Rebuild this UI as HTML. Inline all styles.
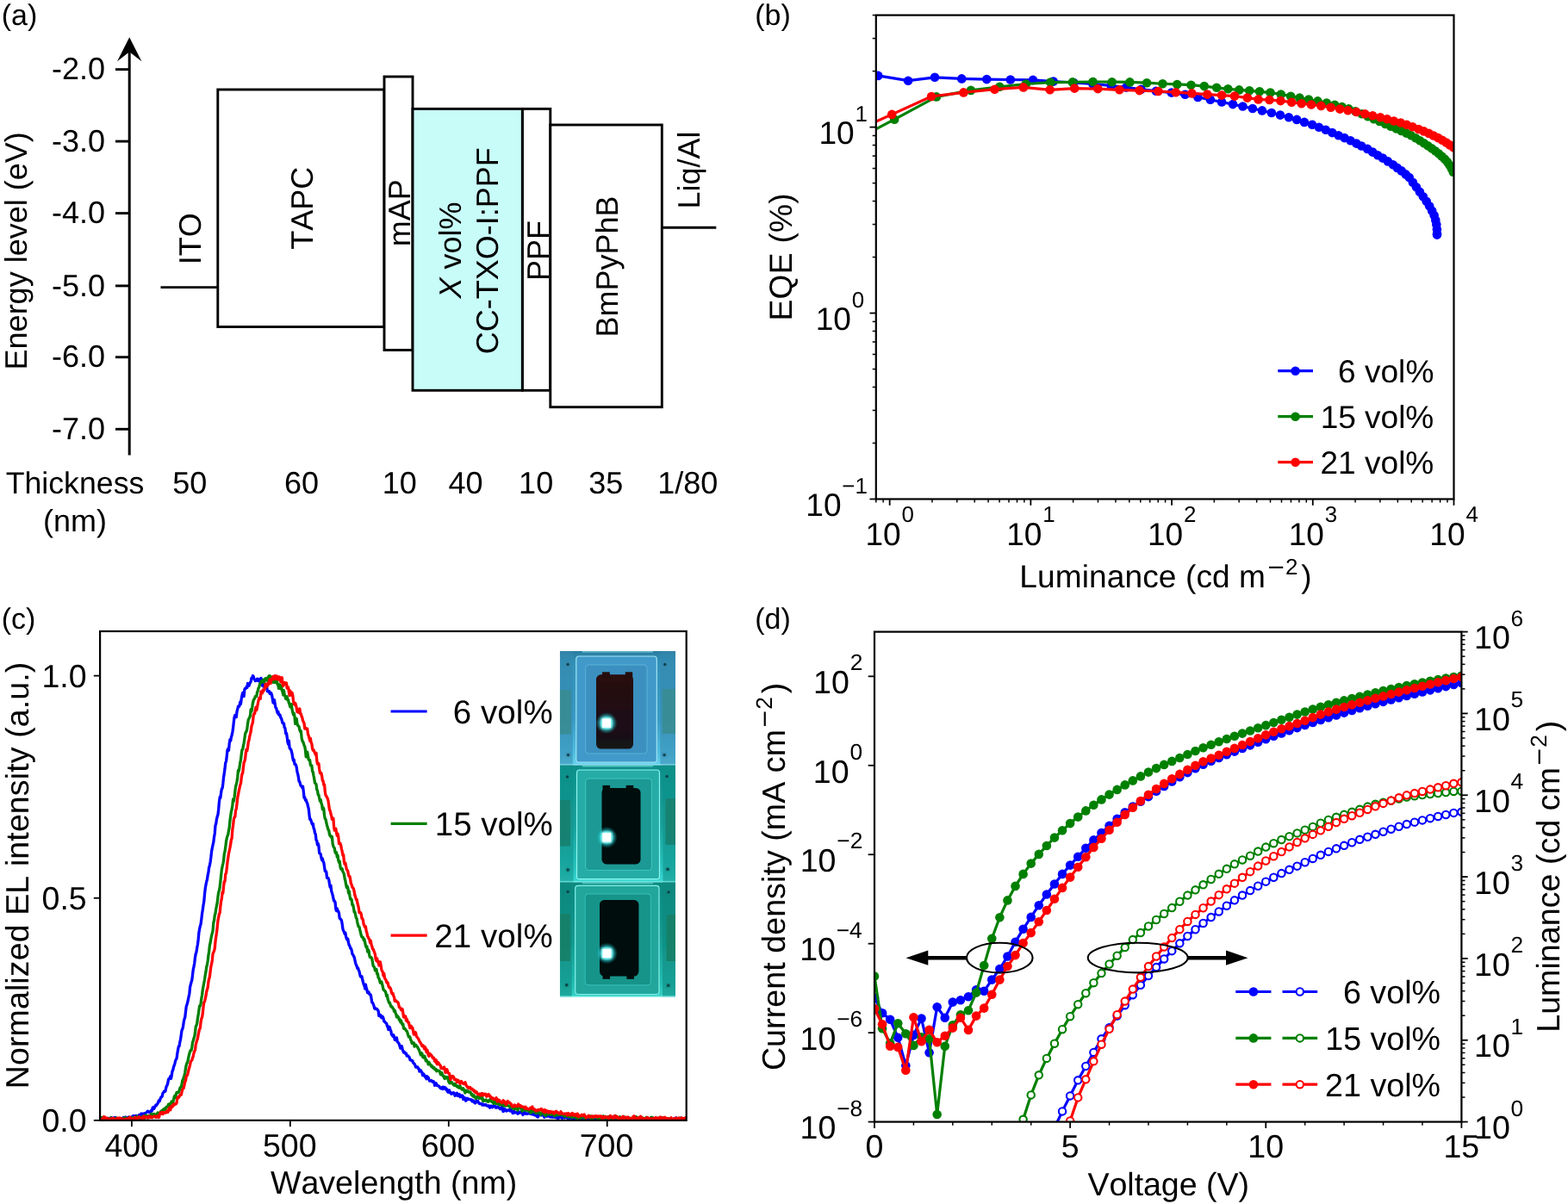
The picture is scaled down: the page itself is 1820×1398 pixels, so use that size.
<!DOCTYPE html>
<html lang="en"><head><meta charset="utf-8"><title>Figure</title>
<style>
html,body{margin:0;padding:0;background:#fff;}
body{width:1820px;height:1398px;overflow:hidden;}
svg{display:block;font-family:'Liberation Sans', sans-serif;fill:#000;font-kerning:none;text-rendering:geometricPrecision;}
</style></head><body>
<svg width="1820" height="1398" viewBox="0 0 1820 1398">
<rect width="1820" height="1398" fill="#fff" stroke="none"/>
<g id="pa">
<text x="1.69" y="29.2" font-size="34">(a)</text>
<line x1="150.2" y1="56" x2="150.2" y2="528.6" stroke="#000" stroke-width="3"/>
<path d="M150.2 43.2 L164.4 71.2 L150.2 60.2 L136 71.2 Z" fill="#000"/>
<line x1="134" y1="80.6" x2="150.2" y2="80.6" stroke="#000" stroke-width="2.9"/>
<text x="60.07" y="92.2" font-size="36">-2.0</text>
<line x1="134" y1="164.1" x2="150.2" y2="164.1" stroke="#000" stroke-width="2.9"/>
<text x="60.07" y="175.7" font-size="36">-3.0</text>
<line x1="134" y1="247.6" x2="150.2" y2="247.6" stroke="#000" stroke-width="2.9"/>
<text x="60.07" y="259.2" font-size="36">-4.0</text>
<line x1="134" y1="331.9" x2="150.2" y2="331.9" stroke="#000" stroke-width="2.9"/>
<text x="60.07" y="343.5" font-size="36">-5.0</text>
<line x1="134" y1="414.7" x2="150.2" y2="414.7" stroke="#000" stroke-width="2.9"/>
<text x="60.07" y="426.3" font-size="36">-6.0</text>
<line x1="134" y1="498.3" x2="150.2" y2="498.3" stroke="#000" stroke-width="2.9"/>
<text x="60.07" y="509.9" font-size="36">-7.0</text>
<text font-size="36" transform="translate(31.3 429.42) rotate(-90)">Energy level (eV)</text>
<line x1="186.5" y1="333.6" x2="252.8" y2="333.6" stroke="#000" stroke-width="2.9"/>
<rect x="252.8" y="104" width="193.2" height="275.5" fill="none" stroke="#000" stroke-width="2.9"/>
<rect x="446" y="89" width="33" height="317.5" fill="#fff" stroke="#000" stroke-width="2.9"/>
<rect x="606.3" y="126.4" width="32.5" height="326.9" fill="none" stroke="#000" stroke-width="2.9"/>
<rect x="479" y="126.4" width="127.3" height="326.9" fill="#c8fcf9" stroke="#000" stroke-width="2.9"/>
<rect x="638.8" y="145" width="129.5" height="327.7" fill="#fff" stroke="#000" stroke-width="2.9"/>
<line x1="768.3" y1="264.2" x2="831.3" y2="264.2" stroke="#000" stroke-width="2.9"/>
<text font-size="36" transform="translate(232.5 307.3) rotate(-90)">ITO</text>
<text font-size="36" transform="translate(363 289.72) rotate(-90)">TAPC</text>
<text font-size="36" transform="translate(476 286.25) rotate(-90)">mAP</text>
<text font-size="36" transform="translate(578.2 411.19) rotate(-90)">CC-TXO-I:PPF</text>
<text font-size="36" transform="translate(637 326.06) rotate(-90)">PPF</text>
<text font-size="36" transform="translate(717 391.56) rotate(-90)">BmPyPhB</text>
<text font-size="36" transform="translate(812.2 242.6) rotate(-90)">Liq/Al</text>
<text transform="translate(535.2 346.6) rotate(-90)" font-size="36" style="white-space:pre"><tspan font-style="italic">X</tspan> vol%</text>
<text x="6.7" y="573.4" font-size="35.7">Thickness</text>
<text x="50.01" y="617" font-size="36">(nm)</text>
<text x="200.26" y="573.4" font-size="36">50</text>
<text x="330.07" y="573.4" font-size="36">60</text>
<text x="443.81" y="573.4" font-size="36">10</text>
<text x="520.57" y="573.4" font-size="36">40</text>
<text x="602.11" y="573.4" font-size="36">10</text>
<text x="683.25" y="573.4" font-size="36">35</text>
<text x="763.3" y="573.4" font-size="36">1/80</text>
</g>
<g id="pb">
<text x="876.19" y="29.1" font-size="34">(b)</text>
<line x1="1016.8" y1="579.5" x2="1016.8" y2="583.6" stroke="#000" stroke-width="1.5"/>
<line x1="1025.17" y1="579.5" x2="1025.17" y2="583.6" stroke="#000" stroke-width="1.5"/>
<line x1="1032.67" y1="579.5" x2="1032.67" y2="586.8" stroke="#000" stroke-width="1.8"/>
<line x1="1081.95" y1="579.5" x2="1081.95" y2="583.6" stroke="#000" stroke-width="1.5"/>
<line x1="1110.77" y1="579.5" x2="1110.77" y2="583.6" stroke="#000" stroke-width="1.5"/>
<line x1="1131.23" y1="579.5" x2="1131.23" y2="583.6" stroke="#000" stroke-width="1.5"/>
<line x1="1147.09" y1="579.5" x2="1147.09" y2="583.6" stroke="#000" stroke-width="1.5"/>
<line x1="1160.06" y1="579.5" x2="1160.06" y2="583.6" stroke="#000" stroke-width="1.5"/>
<line x1="1171.01" y1="579.5" x2="1171.01" y2="583.6" stroke="#000" stroke-width="1.5"/>
<line x1="1180.51" y1="579.5" x2="1180.51" y2="583.6" stroke="#000" stroke-width="1.5"/>
<line x1="1188.88" y1="579.5" x2="1188.88" y2="583.6" stroke="#000" stroke-width="1.5"/>
<line x1="1196.37" y1="579.5" x2="1196.37" y2="586.8" stroke="#000" stroke-width="1.8"/>
<line x1="1245.66" y1="579.5" x2="1245.66" y2="583.6" stroke="#000" stroke-width="1.5"/>
<line x1="1274.48" y1="579.5" x2="1274.48" y2="583.6" stroke="#000" stroke-width="1.5"/>
<line x1="1294.94" y1="579.5" x2="1294.94" y2="583.6" stroke="#000" stroke-width="1.5"/>
<line x1="1310.8" y1="579.5" x2="1310.8" y2="583.6" stroke="#000" stroke-width="1.5"/>
<line x1="1323.76" y1="579.5" x2="1323.76" y2="583.6" stroke="#000" stroke-width="1.5"/>
<line x1="1334.72" y1="579.5" x2="1334.72" y2="583.6" stroke="#000" stroke-width="1.5"/>
<line x1="1344.22" y1="579.5" x2="1344.22" y2="583.6" stroke="#000" stroke-width="1.5"/>
<line x1="1352.59" y1="579.5" x2="1352.59" y2="583.6" stroke="#000" stroke-width="1.5"/>
<line x1="1360.08" y1="579.5" x2="1360.08" y2="586.8" stroke="#000" stroke-width="1.8"/>
<line x1="1409.36" y1="579.5" x2="1409.36" y2="583.6" stroke="#000" stroke-width="1.5"/>
<line x1="1438.19" y1="579.5" x2="1438.19" y2="583.6" stroke="#000" stroke-width="1.5"/>
<line x1="1458.64" y1="579.5" x2="1458.64" y2="583.6" stroke="#000" stroke-width="1.5"/>
<line x1="1474.51" y1="579.5" x2="1474.51" y2="583.6" stroke="#000" stroke-width="1.5"/>
<line x1="1487.47" y1="579.5" x2="1487.47" y2="583.6" stroke="#000" stroke-width="1.5"/>
<line x1="1498.43" y1="579.5" x2="1498.43" y2="583.6" stroke="#000" stroke-width="1.5"/>
<line x1="1507.93" y1="579.5" x2="1507.93" y2="583.6" stroke="#000" stroke-width="1.5"/>
<line x1="1516.3" y1="579.5" x2="1516.3" y2="583.6" stroke="#000" stroke-width="1.5"/>
<line x1="1523.79" y1="579.5" x2="1523.79" y2="586.8" stroke="#000" stroke-width="1.8"/>
<line x1="1573.07" y1="579.5" x2="1573.07" y2="583.6" stroke="#000" stroke-width="1.5"/>
<line x1="1601.9" y1="579.5" x2="1601.9" y2="583.6" stroke="#000" stroke-width="1.5"/>
<line x1="1622.35" y1="579.5" x2="1622.35" y2="583.6" stroke="#000" stroke-width="1.5"/>
<line x1="1638.22" y1="579.5" x2="1638.22" y2="583.6" stroke="#000" stroke-width="1.5"/>
<line x1="1651.18" y1="579.5" x2="1651.18" y2="583.6" stroke="#000" stroke-width="1.5"/>
<line x1="1662.14" y1="579.5" x2="1662.14" y2="583.6" stroke="#000" stroke-width="1.5"/>
<line x1="1671.63" y1="579.5" x2="1671.63" y2="583.6" stroke="#000" stroke-width="1.5"/>
<line x1="1680.01" y1="579.5" x2="1680.01" y2="583.6" stroke="#000" stroke-width="1.5"/>
<line x1="1687.5" y1="579.5" x2="1687.5" y2="586.8" stroke="#000" stroke-width="1.8"/>
<line x1="1009.5" y1="579.5" x2="1016.8" y2="579.5" stroke="#000" stroke-width="1.8"/>
<line x1="1012.7" y1="514.49" x2="1016.8" y2="514.49" stroke="#000" stroke-width="1.5"/>
<line x1="1012.7" y1="476.47" x2="1016.8" y2="476.47" stroke="#000" stroke-width="1.5"/>
<line x1="1012.7" y1="449.49" x2="1016.8" y2="449.49" stroke="#000" stroke-width="1.5"/>
<line x1="1012.7" y1="428.56" x2="1016.8" y2="428.56" stroke="#000" stroke-width="1.5"/>
<line x1="1012.7" y1="411.46" x2="1016.8" y2="411.46" stroke="#000" stroke-width="1.5"/>
<line x1="1012.7" y1="397.01" x2="1016.8" y2="397.01" stroke="#000" stroke-width="1.5"/>
<line x1="1012.7" y1="384.48" x2="1016.8" y2="384.48" stroke="#000" stroke-width="1.5"/>
<line x1="1012.7" y1="373.44" x2="1016.8" y2="373.44" stroke="#000" stroke-width="1.5"/>
<line x1="1009.5" y1="363.56" x2="1016.8" y2="363.56" stroke="#000" stroke-width="1.8"/>
<line x1="1012.7" y1="298.55" x2="1016.8" y2="298.55" stroke="#000" stroke-width="1.5"/>
<line x1="1012.7" y1="260.52" x2="1016.8" y2="260.52" stroke="#000" stroke-width="1.5"/>
<line x1="1012.7" y1="233.54" x2="1016.8" y2="233.54" stroke="#000" stroke-width="1.5"/>
<line x1="1012.7" y1="212.62" x2="1016.8" y2="212.62" stroke="#000" stroke-width="1.5"/>
<line x1="1012.7" y1="195.52" x2="1016.8" y2="195.52" stroke="#000" stroke-width="1.5"/>
<line x1="1012.7" y1="181.06" x2="1016.8" y2="181.06" stroke="#000" stroke-width="1.5"/>
<line x1="1012.7" y1="168.54" x2="1016.8" y2="168.54" stroke="#000" stroke-width="1.5"/>
<line x1="1012.7" y1="157.49" x2="1016.8" y2="157.49" stroke="#000" stroke-width="1.5"/>
<line x1="1009.5" y1="147.61" x2="1016.8" y2="147.61" stroke="#000" stroke-width="1.8"/>
<line x1="1012.7" y1="82.61" x2="1016.8" y2="82.61" stroke="#000" stroke-width="1.5"/>
<line x1="1012.7" y1="44.58" x2="1016.8" y2="44.58" stroke="#000" stroke-width="1.5"/>
<line x1="1012.7" y1="17.6" x2="1016.8" y2="17.6" stroke="#000" stroke-width="1.5"/>
<text x="1004.51" y="632.5" font-size="37.1" text-anchor="start">10</text>
<text x="1046.58" y="606.3" font-size="25.97" text-anchor="start">0</text>
<text x="1168.22" y="632.5" font-size="37.1" text-anchor="start">10</text>
<text x="1210.29" y="606.3" font-size="25.97" text-anchor="start">1</text>
<text x="1331.93" y="632.5" font-size="37.1" text-anchor="start">10</text>
<text x="1373.99" y="606.3" font-size="25.97" text-anchor="start">2</text>
<text x="1495.64" y="632.5" font-size="37.1" text-anchor="start">10</text>
<text x="1537.7" y="606.3" font-size="25.97" text-anchor="start">3</text>
<text x="1659.35" y="632.5" font-size="37.1" text-anchor="start">10</text>
<text x="1701.41" y="606.3" font-size="25.97" text-anchor="start">4</text>
<text x="935.28" y="599" font-size="37.1" text-anchor="start">10</text>
<text x="977.35" y="572.8" font-size="25.97" text-anchor="start">&#8722;1</text>
<text x="946.7" y="383.06" font-size="37.1" text-anchor="start">10</text>
<text x="988.77" y="356.86" font-size="25.97" text-anchor="start">0</text>
<text x="950.45" y="167.11" font-size="37.1" text-anchor="start">10</text>
<text x="992.51" y="140.91" font-size="25.97" text-anchor="start">1</text>
<clipPath id="cb"><rect x="1016.8" y="17.6" width="670.7" height="561.9"/></clipPath>
<g clip-path="url(#cb)">
<polyline fill="none" stroke="#0000ff" stroke-width="3.2" stroke-linejoin="round" points="1019.3,87.9 1054.1,93.7 1085,89.8 1116.3,91.4 1145.3,92.1 1172.9,92.5 1199,92.9 1222.7,94.6 1246.3,96 1268.5,97.5 1289.7,99.5 1307.1,101.4 1324.5,103.8 1341.9,105.7 1359.8,107.6 1375.6,109.8 1390.4,112.9 1404.9,115.8 1418.1,118.5 1431,121.1 1442.5,123.5 1453.9,126 1465,128.4 1475.9,131 1486,133.6 1495.9,136.3 1505.2,138.9 1514,141.9 1523,144.8 1530.9,147.8 1538.8,150.8 1546.3,154.1 1553.6,157.3 1560.5,160.1 1567.5,163.2 1574.4,166.6 1580.3,169.5 1587.2,172.9 1593.2,176.6 1599.1,180.2 1605,183.6 1611,187.4 1616.9,191.3 1621.8,194.9 1626.8,198.4 1631.7,202.4 1635.7,206.1 1639.91,211.7 1643.95,217.27 1647.89,222.82 1651.84,228.33 1655.71,233.82 1659.11,239.28 1662.16,244.72 1664.63,250.12 1666.28,255.5 1667.35,260.86 1667.89,266.18 1668,271.48 1668,272.6"/>
<circle cx="1019.3" cy="87.9" r="5.3" fill="#0000ff"/>
<circle cx="1054.1" cy="93.7" r="5.3" fill="#0000ff"/>
<circle cx="1085" cy="89.8" r="5.3" fill="#0000ff"/>
<circle cx="1116.3" cy="91.4" r="5.3" fill="#0000ff"/>
<circle cx="1145.3" cy="92.1" r="5.3" fill="#0000ff"/>
<circle cx="1172.9" cy="92.5" r="5.3" fill="#0000ff"/>
<circle cx="1199" cy="92.9" r="5.3" fill="#0000ff"/>
<circle cx="1222.7" cy="94.6" r="5.3" fill="#0000ff"/>
<circle cx="1246.3" cy="96" r="5.3" fill="#0000ff"/>
<circle cx="1268.5" cy="97.5" r="5.3" fill="#0000ff"/>
<circle cx="1289.7" cy="99.5" r="5.3" fill="#0000ff"/>
<circle cx="1307.1" cy="101.4" r="5.3" fill="#0000ff"/>
<circle cx="1324.5" cy="103.8" r="5.3" fill="#0000ff"/>
<circle cx="1341.9" cy="105.7" r="5.3" fill="#0000ff"/>
<circle cx="1359.8" cy="107.6" r="5.3" fill="#0000ff"/>
<circle cx="1375.6" cy="109.8" r="5.3" fill="#0000ff"/>
<circle cx="1390.4" cy="112.9" r="5.3" fill="#0000ff"/>
<circle cx="1404.9" cy="115.8" r="5.3" fill="#0000ff"/>
<circle cx="1418.1" cy="118.5" r="5.3" fill="#0000ff"/>
<circle cx="1431" cy="121.1" r="5.3" fill="#0000ff"/>
<circle cx="1442.5" cy="123.5" r="5.3" fill="#0000ff"/>
<circle cx="1453.9" cy="126" r="5.3" fill="#0000ff"/>
<circle cx="1465" cy="128.4" r="5.3" fill="#0000ff"/>
<circle cx="1475.9" cy="131" r="5.3" fill="#0000ff"/>
<circle cx="1486" cy="133.6" r="5.3" fill="#0000ff"/>
<circle cx="1495.9" cy="136.3" r="5.3" fill="#0000ff"/>
<circle cx="1505.2" cy="138.9" r="5.3" fill="#0000ff"/>
<circle cx="1514" cy="141.9" r="5.3" fill="#0000ff"/>
<circle cx="1523" cy="144.8" r="5.3" fill="#0000ff"/>
<circle cx="1530.9" cy="147.8" r="5.3" fill="#0000ff"/>
<circle cx="1538.8" cy="150.8" r="5.3" fill="#0000ff"/>
<circle cx="1546.3" cy="154.1" r="5.3" fill="#0000ff"/>
<circle cx="1553.6" cy="157.3" r="5.3" fill="#0000ff"/>
<circle cx="1560.5" cy="160.1" r="5.3" fill="#0000ff"/>
<circle cx="1567.5" cy="163.2" r="5.3" fill="#0000ff"/>
<circle cx="1574.4" cy="166.6" r="5.3" fill="#0000ff"/>
<circle cx="1580.3" cy="169.5" r="5.3" fill="#0000ff"/>
<circle cx="1587.2" cy="172.9" r="5.3" fill="#0000ff"/>
<circle cx="1593.2" cy="176.6" r="5.3" fill="#0000ff"/>
<circle cx="1599.1" cy="180.2" r="5.3" fill="#0000ff"/>
<circle cx="1605" cy="183.6" r="5.3" fill="#0000ff"/>
<circle cx="1611" cy="187.4" r="5.3" fill="#0000ff"/>
<circle cx="1616.9" cy="191.3" r="5.3" fill="#0000ff"/>
<circle cx="1621.8" cy="194.9" r="5.3" fill="#0000ff"/>
<circle cx="1626.8" cy="198.4" r="5.3" fill="#0000ff"/>
<circle cx="1631.7" cy="202.4" r="5.3" fill="#0000ff"/>
<circle cx="1635.7" cy="206.1" r="5.3" fill="#0000ff"/>
<circle cx="1639.91" cy="211.7" r="5.3" fill="#0000ff"/>
<circle cx="1643.95" cy="217.27" r="5.3" fill="#0000ff"/>
<circle cx="1647.89" cy="222.82" r="5.3" fill="#0000ff"/>
<circle cx="1651.84" cy="228.33" r="5.3" fill="#0000ff"/>
<circle cx="1655.71" cy="233.82" r="5.3" fill="#0000ff"/>
<circle cx="1659.11" cy="239.28" r="5.3" fill="#0000ff"/>
<circle cx="1662.16" cy="244.72" r="5.3" fill="#0000ff"/>
<circle cx="1664.63" cy="250.12" r="5.3" fill="#0000ff"/>
<circle cx="1666.28" cy="255.5" r="5.3" fill="#0000ff"/>
<circle cx="1667.35" cy="260.86" r="5.3" fill="#0000ff"/>
<circle cx="1667.89" cy="266.18" r="5.3" fill="#0000ff"/>
<circle cx="1668" cy="271.48" r="5.3" fill="#0000ff"/>
<circle cx="1668" cy="272.6" r="5.3" fill="#0000ff"/>
<polyline fill="none" stroke="#008000" stroke-width="3.2" stroke-linejoin="round" points="1010,153.4 1038.2,138.7 1086.9,112.4 1126.9,104.9 1160.3,100.8 1190.8,97.5 1219.2,95.6 1244.9,95.4 1268.5,95 1290.7,95.2 1311.4,95.4 1331.1,96.2 1349.5,97.24 1366.3,97.93 1382.5,98.7 1397.8,100.09 1412.2,101.82 1425.4,103.3 1438.3,104.41 1450.2,105.33 1462,106.3 1474.5,107.6 1486.8,109.5 1498.2,111.69 1508.5,113.67 1519,115.52 1529.5,117.41 1539.8,119.5 1549.2,121.73 1557.6,124 1565.5,126.4 1573.2,129.19 1580.55,132.23 1587.68,135.27 1594.64,138.17 1601.39,141.05 1607.94,143.88 1614.31,146.66 1620.51,149.37 1626.56,151.96 1632.37,154.58 1637.89,157.32 1643.12,160.21 1648.09,163.18 1652.84,166.19 1657.38,169.19 1661.74,172.19 1665.9,175.22 1669.83,178.32 1673.54,181.48 1677.01,184.71 1680.09,188.17 1682.69,191.88 1684.88,195.74 1686.76,199.69"/>
<circle cx="1038.2" cy="138.7" r="5.3" fill="#008000"/>
<circle cx="1086.9" cy="112.4" r="5.3" fill="#008000"/>
<circle cx="1126.9" cy="104.9" r="5.3" fill="#008000"/>
<circle cx="1160.3" cy="100.8" r="5.3" fill="#008000"/>
<circle cx="1190.8" cy="97.5" r="5.3" fill="#008000"/>
<circle cx="1219.2" cy="95.6" r="5.3" fill="#008000"/>
<circle cx="1244.9" cy="95.4" r="5.3" fill="#008000"/>
<circle cx="1268.5" cy="95" r="5.3" fill="#008000"/>
<circle cx="1290.7" cy="95.2" r="5.3" fill="#008000"/>
<circle cx="1311.4" cy="95.4" r="5.3" fill="#008000"/>
<circle cx="1331.1" cy="96.2" r="5.3" fill="#008000"/>
<circle cx="1349.5" cy="97.24" r="5.3" fill="#008000"/>
<circle cx="1366.3" cy="97.93" r="5.3" fill="#008000"/>
<circle cx="1382.5" cy="98.7" r="5.3" fill="#008000"/>
<circle cx="1397.8" cy="100.09" r="5.3" fill="#008000"/>
<circle cx="1412.2" cy="101.82" r="5.3" fill="#008000"/>
<circle cx="1425.4" cy="103.3" r="5.3" fill="#008000"/>
<circle cx="1438.3" cy="104.41" r="5.3" fill="#008000"/>
<circle cx="1450.2" cy="105.33" r="5.3" fill="#008000"/>
<circle cx="1462" cy="106.3" r="5.3" fill="#008000"/>
<circle cx="1474.5" cy="107.6" r="5.3" fill="#008000"/>
<circle cx="1486.8" cy="109.5" r="5.3" fill="#008000"/>
<circle cx="1498.2" cy="111.69" r="5.3" fill="#008000"/>
<circle cx="1508.5" cy="113.67" r="5.3" fill="#008000"/>
<circle cx="1519" cy="115.52" r="5.3" fill="#008000"/>
<circle cx="1529.5" cy="117.41" r="5.3" fill="#008000"/>
<circle cx="1539.8" cy="119.5" r="5.3" fill="#008000"/>
<circle cx="1549.2" cy="121.73" r="5.3" fill="#008000"/>
<circle cx="1557.6" cy="124" r="5.3" fill="#008000"/>
<circle cx="1565.5" cy="126.4" r="5.3" fill="#008000"/>
<circle cx="1573.2" cy="129.19" r="5.3" fill="#008000"/>
<circle cx="1580.55" cy="132.23" r="5.3" fill="#008000"/>
<circle cx="1587.68" cy="135.27" r="5.3" fill="#008000"/>
<circle cx="1594.64" cy="138.17" r="5.3" fill="#008000"/>
<circle cx="1601.39" cy="141.05" r="5.3" fill="#008000"/>
<circle cx="1607.94" cy="143.88" r="5.3" fill="#008000"/>
<circle cx="1614.31" cy="146.66" r="5.3" fill="#008000"/>
<circle cx="1620.51" cy="149.37" r="5.3" fill="#008000"/>
<circle cx="1626.56" cy="151.96" r="5.3" fill="#008000"/>
<circle cx="1632.37" cy="154.58" r="5.3" fill="#008000"/>
<circle cx="1637.89" cy="157.32" r="5.3" fill="#008000"/>
<circle cx="1643.12" cy="160.21" r="5.3" fill="#008000"/>
<circle cx="1648.09" cy="163.18" r="5.3" fill="#008000"/>
<circle cx="1652.84" cy="166.19" r="5.3" fill="#008000"/>
<circle cx="1657.38" cy="169.19" r="5.3" fill="#008000"/>
<circle cx="1661.74" cy="172.19" r="5.3" fill="#008000"/>
<circle cx="1665.9" cy="175.22" r="5.3" fill="#008000"/>
<circle cx="1669.83" cy="178.32" r="5.3" fill="#008000"/>
<circle cx="1673.54" cy="181.48" r="5.3" fill="#008000"/>
<circle cx="1677.01" cy="184.71" r="5.3" fill="#008000"/>
<circle cx="1680.09" cy="188.17" r="5.3" fill="#008000"/>
<circle cx="1682.69" cy="191.88" r="5.3" fill="#008000"/>
<circle cx="1684.88" cy="195.74" r="5.3" fill="#008000"/>
<circle cx="1686.76" cy="199.69" r="5.3" fill="#008000"/>
<polyline fill="none" stroke="#ff0000" stroke-width="3.2" stroke-linejoin="round" points="1010,144.2 1035.2,132.9 1081.1,112 1118.4,107.4 1154.5,103.7 1187.9,101.4 1218.7,104.3 1247.2,102.6 1274.3,103.1 1299.4,104.3 1322.6,105.1 1344.4,106 1364.7,107.2 1383.5,108.4 1401.3,109.6 1418.1,110.6 1433,111.6 1447.8,113.6 1460.6,115.4 1473.5,116 1486.4,117.1 1499.2,118.7 1510.7,120.3 1522,121.5 1533.4,122.9 1544.7,124.7 1555.2,126.6 1564.5,128.2 1574.4,130 1584.3,132.2 1593.2,134.2 1602.1,136.3 1610,138.3 1617.9,140.5 1625.8,142.5 1632.7,144.8 1639.6,147.2 1646.6,150 1652.72,152.41 1658.5,154.92 1663.98,157.48 1669.17,160.09 1674.07,162.77 1678.66,165.53 1682.97,168.38 1687.09,171.17 1691.02,173.91 1694.77,176.6"/>
<circle cx="1035.2" cy="132.9" r="5.3" fill="#ff0000"/>
<circle cx="1081.1" cy="112" r="5.3" fill="#ff0000"/>
<circle cx="1118.4" cy="107.4" r="5.3" fill="#ff0000"/>
<circle cx="1154.5" cy="103.7" r="5.3" fill="#ff0000"/>
<circle cx="1187.9" cy="101.4" r="5.3" fill="#ff0000"/>
<circle cx="1218.7" cy="104.3" r="5.3" fill="#ff0000"/>
<circle cx="1247.2" cy="102.6" r="5.3" fill="#ff0000"/>
<circle cx="1274.3" cy="103.1" r="5.3" fill="#ff0000"/>
<circle cx="1299.4" cy="104.3" r="5.3" fill="#ff0000"/>
<circle cx="1322.6" cy="105.1" r="5.3" fill="#ff0000"/>
<circle cx="1344.4" cy="106" r="5.3" fill="#ff0000"/>
<circle cx="1364.7" cy="107.2" r="5.3" fill="#ff0000"/>
<circle cx="1383.5" cy="108.4" r="5.3" fill="#ff0000"/>
<circle cx="1401.3" cy="109.6" r="5.3" fill="#ff0000"/>
<circle cx="1418.1" cy="110.6" r="5.3" fill="#ff0000"/>
<circle cx="1433" cy="111.6" r="5.3" fill="#ff0000"/>
<circle cx="1447.8" cy="113.6" r="5.3" fill="#ff0000"/>
<circle cx="1460.6" cy="115.4" r="5.3" fill="#ff0000"/>
<circle cx="1473.5" cy="116" r="5.3" fill="#ff0000"/>
<circle cx="1486.4" cy="117.1" r="5.3" fill="#ff0000"/>
<circle cx="1499.2" cy="118.7" r="5.3" fill="#ff0000"/>
<circle cx="1510.7" cy="120.3" r="5.3" fill="#ff0000"/>
<circle cx="1522" cy="121.5" r="5.3" fill="#ff0000"/>
<circle cx="1533.4" cy="122.9" r="5.3" fill="#ff0000"/>
<circle cx="1544.7" cy="124.7" r="5.3" fill="#ff0000"/>
<circle cx="1555.2" cy="126.6" r="5.3" fill="#ff0000"/>
<circle cx="1564.5" cy="128.2" r="5.3" fill="#ff0000"/>
<circle cx="1574.4" cy="130" r="5.3" fill="#ff0000"/>
<circle cx="1584.3" cy="132.2" r="5.3" fill="#ff0000"/>
<circle cx="1593.2" cy="134.2" r="5.3" fill="#ff0000"/>
<circle cx="1602.1" cy="136.3" r="5.3" fill="#ff0000"/>
<circle cx="1610" cy="138.3" r="5.3" fill="#ff0000"/>
<circle cx="1617.9" cy="140.5" r="5.3" fill="#ff0000"/>
<circle cx="1625.8" cy="142.5" r="5.3" fill="#ff0000"/>
<circle cx="1632.7" cy="144.8" r="5.3" fill="#ff0000"/>
<circle cx="1639.6" cy="147.2" r="5.3" fill="#ff0000"/>
<circle cx="1646.6" cy="150" r="5.3" fill="#ff0000"/>
<circle cx="1652.72" cy="152.41" r="5.3" fill="#ff0000"/>
<circle cx="1658.5" cy="154.92" r="5.3" fill="#ff0000"/>
<circle cx="1663.98" cy="157.48" r="5.3" fill="#ff0000"/>
<circle cx="1669.17" cy="160.09" r="5.3" fill="#ff0000"/>
<circle cx="1674.07" cy="162.77" r="5.3" fill="#ff0000"/>
<circle cx="1678.66" cy="165.53" r="5.3" fill="#ff0000"/>
<circle cx="1682.97" cy="168.38" r="5.3" fill="#ff0000"/>
<circle cx="1687.09" cy="171.17" r="5.3" fill="#ff0000"/>
<circle cx="1691.02" cy="173.91" r="5.3" fill="#ff0000"/>
<circle cx="1694.77" cy="176.6" r="5.3" fill="#ff0000"/>
</g>
<rect x="1016.8" y="17.6" width="670.7" height="561.9" fill="none" stroke="#000" stroke-width="2.2"/>
<line x1="1483.3" y1="430.7" x2="1524" y2="430.7" stroke="#0000ff" stroke-width="3.2"/>
<circle cx="1503.6" cy="430.7" r="5.3" fill="#0000ff"/>
<text x="1552.92" y="444" font-size="37.1" letter-spacing="0.03">6 vol%</text>
<line x1="1483.3" y1="483.7" x2="1524" y2="483.7" stroke="#008000" stroke-width="3.2"/>
<circle cx="1503.6" cy="483.7" r="5.3" fill="#008000"/>
<text x="1532.67" y="497.1" font-size="37.1" letter-spacing="-0.04">15 vol%</text>
<line x1="1483.3" y1="536.7" x2="1524" y2="536.7" stroke="#ff0000" stroke-width="3.2"/>
<circle cx="1503.6" cy="536.7" r="5.3" fill="#ff0000"/>
<text x="1532.43" y="550.4" font-size="37.1" letter-spacing="0">21 vol%</text>
<text font-size="37.1" transform="translate(918.6 372.54) rotate(-90)" letter-spacing="0.33">EQE (%)</text>
<text x="1183.36" y="681.6" font-size="37.1"><tspan letter-spacing="0.09">Luminance (cd m</tspan><tspan dx="1.1" dy="-14.2" font-size="25.97" font-family="'DejaVu Sans', sans-serif">&#8722;</tspan><tspan font-size="25.97">2</tspan><tspan dx="3.8" dy="14.2">)</tspan></text>
</g>
<g id="pc">
<text x="1.79" y="730.2" font-size="34">(c)</text>
<line x1="152.89" y1="1300.9" x2="152.89" y2="1308.2" stroke="#000" stroke-width="1.8"/>
<text x="121.41" y="1343.1" font-size="37.5">400</text>
<line x1="336.84" y1="1300.9" x2="336.84" y2="1308.2" stroke="#000" stroke-width="1.8"/>
<text x="305.03" y="1343.1" font-size="37.5">500</text>
<line x1="520.78" y1="1300.9" x2="520.78" y2="1308.2" stroke="#000" stroke-width="1.8"/>
<text x="488.78" y="1343.1" font-size="37.5">600</text>
<line x1="704.73" y1="1300.9" x2="704.73" y2="1308.2" stroke="#000" stroke-width="1.8"/>
<text x="672.71" y="1343.1" font-size="37.5">700</text>
<line x1="108.8" y1="1300.9" x2="116.1" y2="1300.9" stroke="#000" stroke-width="1.8"/>
<text x="48.43" y="1314.1" font-size="37.5">0.0</text>
<line x1="108.8" y1="1042.76" x2="116.1" y2="1042.76" stroke="#000" stroke-width="1.8"/>
<text x="48.54" y="1055.96" font-size="37.5">0.5</text>
<line x1="108.8" y1="784.63" x2="116.1" y2="784.63" stroke="#000" stroke-width="1.8"/>
<text x="48.43" y="797.83" font-size="37.5">1.0</text>
<clipPath id="cc"><rect x="116.1" y="733" width="680.6" height="567.9"/></clipPath>
<g clip-path="url(#cc)">
<polyline fill="none" stroke="#0000ff" stroke-width="3.3" stroke-linejoin="round" points="116.1,1298.73 116.84,1298 117.57,1299.76 118.31,1300.69 119.04,1301.54 119.78,1299.45 120.51,1299.77 121.25,1299.64 121.99,1298.88 122.72,1299.31 123.46,1300.46 124.19,1300.15 124.93,1299.38 125.67,1298.43 126.4,1299.18 127.14,1300.65 127.87,1299.8 128.61,1297.93 129.34,1297.78 130.08,1299.32 130.82,1299.2 131.55,1298.18 132.29,1298.95 133.02,1297.76 133.76,1297.36 134.49,1298.3 135.23,1298.49 135.97,1298.39 136.7,1299.34 137.44,1299.05 138.17,1299.22 138.91,1298.96 139.65,1299.05 140.38,1298.82 141.12,1298.77 141.85,1298.34 142.59,1298.23 143.32,1297.58 144.06,1297.66 144.8,1299.08 145.53,1297.15 146.27,1298.76 147,1299.15 147.74,1298.06 148.47,1297.38 149.21,1297.23 149.95,1298.49 150.68,1297.31 151.42,1297.96 152.15,1299.22 152.89,1298 153.62,1296.27 154.36,1295.9 155.1,1295.62 155.83,1296.01 156.57,1296.09 157.3,1295.76 158.04,1295.41 158.78,1296.81 159.51,1295.82 160.25,1295.93 160.98,1296.41 161.72,1294.44 162.45,1295.87 163.19,1294.16 163.93,1293.09 164.66,1295.47 165.4,1294.15 166.13,1293.02 166.87,1294.93 167.6,1293.69 168.34,1292.54 169.08,1292.23 169.81,1291.86 170.55,1291.34 171.28,1290.19 172.02,1290.28 172.76,1290.79 173.49,1291.58 174.23,1291.62 174.96,1291.18 175.7,1289.13 176.43,1289.82 177.17,1286.07 177.91,1285.6 178.64,1287.54 179.38,1286.26 180.11,1284.62 180.85,1283.14 181.58,1283.63 182.32,1282.09 183.06,1281.39 183.79,1279.38 184.53,1277.69 185.26,1278.49 186,1276.11 186.74,1274.38 187.47,1273.43 188.21,1273.29 188.94,1269.59 189.68,1268.69 190.41,1267.09 191.15,1267.3 191.89,1267.21 192.62,1263.77 193.36,1260.84 194.09,1260.11 194.83,1257.57 195.56,1253.41 196.3,1252.22 197.04,1252 197.77,1249.7 198.51,1252.5 199.24,1248.98 199.98,1243.83 200.72,1242.55 201.45,1239.2 202.19,1237.16 202.92,1234.94 203.66,1231.52 204.39,1230.28 205.13,1228.5 205.87,1223.06 206.6,1218.87 207.34,1214.95 208.07,1214.84 208.81,1210.02 209.54,1206.89 210.28,1201.8 211.02,1196.38 211.75,1194.98 212.49,1192.05 213.22,1186.96 213.96,1183.28 214.7,1181.49 215.43,1175.33 216.17,1169.1 216.9,1166.71 217.64,1164.36 218.37,1160.82 219.11,1157.24 219.85,1153.73 220.58,1146.2 221.32,1143.18 222.05,1140.34 222.79,1138.04 223.52,1132.03 224.26,1125.89 225,1122.41 225.73,1118.44 226.47,1111.9 227.2,1107.65 227.94,1105.5 228.67,1100.73 229.41,1096.7 230.15,1090.95 230.88,1082.99 231.62,1078.75 232.35,1075.32 233.09,1073.01 233.83,1067.21 234.56,1060.9 235.3,1056.24 236.03,1051.06 236.77,1046.64 237.5,1038.49 238.24,1031.81 238.98,1027.45 239.71,1023.82 240.45,1021.32 241.18,1016.16 241.92,1012.96 242.65,1007.02 243.39,1005 244.13,1000.78 244.86,995.4 245.6,988.57 246.33,984.76 247.07,981.28 247.81,977.98 248.54,971.97 249.28,967.72 250.01,958.44 250.75,956.38 251.48,951.08 252.22,948.07 252.96,946.04 253.69,939.76 254.43,931.12 255.16,925.74 255.9,926.17 256.63,920.36 257.37,916.08 258.11,915.12 258.84,909.7 259.58,902.41 260.31,897.64 261.05,892.31 261.79,885.48 262.52,884.24 263.26,877.77 263.99,870.88 264.73,869.52 265.46,871.39 266.2,863.54 266.94,858.81 267.67,860.16 268.41,856 269.14,853.43 269.88,850.03 270.61,845.11 271.35,838.15 272.09,832.51 272.82,830.42 273.56,832.72 274.29,832.53 275.03,826.02 275.77,823.5 276.5,820.07 277.24,820.43 277.97,819.86 278.71,815.29 279.44,817.49 280.18,811.63 280.92,807.59 281.65,804.61 282.39,803.97 283.12,808.51 283.86,800.66 284.59,799.38 285.33,799.31 286.07,797.51 286.8,798.47 287.54,793.52 288.27,794.15 289.01,796.22 289.74,794.1 290.48,792.59 291.22,791.16 291.95,787.42 292.69,787.59 293.42,784.63 294.16,785.59 294.9,788.03 295.63,789.16 296.37,790.64 297.1,790.35 297.84,789.35 298.57,788.19 299.31,790.36 300.05,788.59 300.78,789.63 301.52,791.63 302.25,790.26 302.99,787.42 303.72,790.33 304.46,796.08 305.2,795.89 305.93,797.11 306.67,796.06 307.4,793.73 308.14,795.98 308.88,795.14 309.61,797.06 310.35,802.73 311.08,802.99 311.82,802.62 312.55,802.61 313.29,805.54 314.03,804.62 314.76,804.72 315.5,806.72 316.23,810.84 316.97,815.73 317.7,816.4 318.44,812.73 319.18,817.15 319.91,821.5 320.65,822.25 321.38,825.05 322.12,827.72 322.86,826.31 323.59,829.96 324.33,829.79 325.06,830.22 325.8,833.37 326.53,834.06 327.27,836.69 328.01,839.55 328.74,839.92 329.48,840.01 330.21,844.89 330.95,845.57 331.68,851.75 332.42,851.03 333.16,855.38 333.89,861.44 334.63,864.09 335.36,860.09 336.1,868.31 336.84,869.51 337.57,869.9 338.31,872.49 339.04,875.14 339.78,879.98 340.51,883.03 341.25,882.19 341.99,887.37 342.72,887.15 343.46,888.32 344.19,890.73 344.93,896.13 345.66,898.69 346.4,902.41 347.14,907.24 347.87,907.69 348.61,910.83 349.34,912.48 350.08,912.72 350.82,914.54 351.55,913.24 352.29,918.87 353.02,926.41 353.76,925.75 354.49,929.08 355.23,928.69 355.97,931.25 356.7,932.69 357.44,936.05 358.17,938.64 358.91,945.29 359.64,951.28 360.38,951.16 361.12,953.05 361.85,955.66 362.59,957.35 363.32,956.56 364.06,961.73 364.79,963.06 365.53,967.38 366.27,968.64 367,975.4 367.74,976.21 368.47,981.13 369.21,979.42 369.95,982.49 370.68,990.61 371.42,990.78 372.15,991.53 372.89,995.8 373.62,998.45 374.36,997.03 375.1,1000.55 375.83,1001.45 376.57,1006.9 377.3,1011.57 378.04,1011.29 378.77,1012.51 379.51,1019.42 380.25,1019.37 380.98,1019.61 381.72,1021.53 382.45,1026.24 383.19,1030.2 383.93,1028 384.66,1034.51 385.4,1036.72 386.13,1039.43 386.87,1042.9 387.6,1046.2 388.34,1046.21 389.08,1047.73 389.81,1055.72 390.55,1057.7 391.28,1054.89 392.02,1057.24 392.75,1058.07 393.49,1060.41 394.23,1066.27 394.96,1066.65 395.7,1067.74 396.43,1068.8 397.17,1072.72 397.91,1078.51 398.64,1080.75 399.38,1081.96 400.11,1084.38 400.85,1082.93 401.58,1087.59 402.32,1090.02 403.06,1091.27 403.79,1090.19 404.53,1094.89 405.26,1097.44 406,1098.32 406.73,1101.1 407.47,1101.53 408.21,1103.54 408.94,1107.68 409.68,1108.46 410.41,1110.07 411.15,1111.38 411.89,1114.64 412.62,1117.97 413.36,1120.33 414.09,1121.61 414.83,1124.45 415.56,1123.93 416.3,1126.34 417.04,1128.05 417.77,1131.69 418.51,1133.93 419.24,1134.41 419.98,1133.76 420.71,1137.53 421.45,1140.24 422.19,1143.15 422.92,1144.32 423.66,1148.01 424.39,1143.1 425.13,1147.01 425.86,1149.14 426.6,1152.73 427.34,1152.63 428.07,1152.09 428.81,1154.48 429.54,1154.49 430.28,1155.14 431.02,1159.28 431.75,1164.11 432.49,1164.31 433.22,1165.88 433.96,1167.76 434.69,1170.96 435.43,1171.49 436.17,1170.83 436.9,1171.28 437.64,1171.51 438.37,1172.98 439.11,1173.75 439.84,1179.55 440.58,1179.09 441.32,1178.21 442.05,1180.61 442.79,1181.71 443.52,1180.07 444.26,1180.59 445,1182.45 445.73,1185.8 446.47,1186.18 447.2,1187.04 447.94,1187.79 448.67,1188.44 449.41,1191.2 450.15,1192.67 450.88,1195.68 451.62,1192.06 452.35,1193 453.09,1195.9 453.82,1197.23 454.56,1201.44 455.3,1201.5 456.03,1203.28 456.77,1201.75 457.5,1203.8 458.24,1207.31 458.98,1207.6 459.71,1206.61 460.45,1205.08 461.18,1209.54 461.92,1210.24 462.65,1211.05 463.39,1212.54 464.13,1214.99 464.86,1217.15 465.6,1215.98 466.33,1214.71 467.07,1217.97 467.8,1220.4 468.54,1221.98 469.28,1221.21 470.01,1222.48 470.75,1223.51 471.48,1223.29 472.22,1225.99 472.96,1225.83 473.69,1225.82 474.43,1227.09 475.16,1227.62 475.9,1230.43 476.63,1231.11 477.37,1231 478.11,1231.68 478.84,1231.73 479.58,1233.83 480.31,1234.97 481.05,1235.09 481.78,1236.62 482.52,1239.16 483.26,1238.83 483.99,1239.05 484.73,1238.82 485.46,1240.9 486.2,1241 486.94,1244.04 487.67,1242.71 488.41,1242.79 489.14,1244.44 489.88,1245.12 490.61,1248.69 491.35,1246.82 492.09,1247.52 492.82,1249.3 493.56,1250.54 494.29,1250.13 495.03,1252.73 495.76,1249.75 496.5,1250.83 497.24,1251.26 497.97,1253.81 498.71,1255.12 499.44,1254.96 500.18,1254.93 500.91,1254.69 501.65,1255.95 502.39,1255.59 503.12,1255.56 503.86,1256.7 504.59,1260.43 505.33,1258.52 506.07,1257.74 506.8,1258.85 507.54,1260.65 508.27,1260.69 509.01,1260.85 509.74,1261.39 510.48,1262.69 511.22,1263.46 511.95,1264.08 512.69,1262.79 513.42,1262.34 514.16,1264.5 514.89,1262.25 515.63,1262.4 516.37,1263.72 517.1,1262.89 517.84,1265.23 518.57,1264.4 519.31,1267.28 520.05,1268.21 520.78,1266.07 521.52,1265.89 522.25,1268.51 522.99,1268.36 523.72,1270.29 524.46,1269.85 525.2,1268.99 525.93,1269.66 526.67,1268.81 527.4,1269.5 528.14,1272.28 528.87,1271.69 529.61,1270.1 530.35,1269.14 531.08,1272.41 531.82,1272.44 532.55,1270.93 533.29,1270.65 534.03,1273.74 534.76,1273.55 535.5,1273.12 536.23,1271.95 536.97,1272.28 537.7,1276.47 538.44,1276.36 539.18,1274.49 539.91,1275.64 540.65,1278.16 541.38,1275.97 542.12,1275.25 542.85,1276.67 543.59,1276.01 544.33,1276.41 545.06,1276.29 545.8,1276.89 546.53,1276.91 547.27,1276.97 548.01,1278.85 548.74,1277.95 549.48,1277.93 550.21,1279.89 550.95,1280.14 551.68,1280.89 552.42,1280.01 553.16,1277.88 553.89,1279.12 554.63,1278.42 555.36,1280.15 556.1,1281.23 556.83,1281.6 557.57,1281.4 558.31,1281.52 559.04,1281.54 559.78,1283.13 560.51,1282.13 561.25,1282.34 561.98,1283.24 562.72,1283.1 563.46,1282.48 564.19,1282.95 564.93,1283.77 565.66,1284.09 566.4,1284.33 567.14,1283.67 567.87,1285.16 568.61,1286.24 569.34,1284.74 570.08,1284.12 570.81,1285.13 571.55,1285.77 572.29,1284.36 573.02,1284.65 573.76,1284.42 574.49,1284.46 575.23,1286.08 575.96,1285.68 576.7,1286.17 577.44,1285.02 578.17,1285.3 578.91,1286.02 579.64,1286.59 580.38,1287.69 581.12,1287.2 581.85,1287.74 582.59,1285.03 583.32,1287.32 584.06,1290.6 584.79,1290.2 585.53,1287.39 586.27,1289.08 587,1288.65 587.74,1290.03 588.47,1289.16 589.21,1289.5 589.94,1288.84 590.68,1289.14 591.42,1288.46 592.15,1289.94 592.89,1288.66 593.62,1289.84 594.36,1290.34 595.1,1292.58 595.83,1291.72 596.57,1290.12 597.3,1292.07 598.04,1291.35 598.77,1291.7 599.51,1291.94 600.25,1291.68 600.98,1293.25 601.72,1292.32 602.45,1291.15 603.19,1292.29 603.92,1291 604.66,1290.86 605.4,1290.62 606.13,1292.66 606.87,1294.45 607.6,1293.38 608.34,1292.62 609.08,1291.57 609.81,1292.84 610.55,1293.37 611.28,1292.94 612.02,1293.43 612.75,1292.86 613.49,1292.95 614.23,1292.48 614.96,1293.03 615.7,1292.92 616.43,1293.66 617.17,1293.42 617.9,1293.98 618.64,1293.5 619.38,1294.1 620.11,1294.61 620.85,1294.89 621.58,1294.53 622.32,1295 623.06,1296.2 623.79,1294.45 624.53,1296.94 625.26,1295.07 626,1294.84 626.73,1294.12 627.47,1294.74 628.21,1294.99 628.94,1294.59 629.68,1293.32 630.41,1292.88 631.15,1295.65 631.88,1297.26 632.62,1295.51 633.36,1293.69 634.09,1292.71 634.83,1296.29 635.56,1295.63 636.3,1294.94 637.03,1295.85 637.77,1296.52 638.51,1295.41 639.24,1297.1 639.98,1295.63 640.71,1295.29 641.45,1297.35 642.19,1295.79 642.92,1294.82 643.66,1296.92 644.39,1297.52 645.13,1296.65 645.86,1296.4 646.6,1298.25 647.34,1297.82 648.07,1298.52 648.81,1297.42 649.54,1295.87 650.28,1297.29 651.01,1297.36 651.75,1297.11 652.49,1298.36 653.22,1297.98 653.96,1296.11 654.69,1297.06 655.43,1298.04 656.17,1296.48 656.9,1296.24 657.64,1297.13 658.37,1297.81 659.11,1298.95 659.84,1298.68 660.58,1299.11 661.32,1297.05 662.05,1297.65 662.79,1297.17 663.52,1298.4 664.26,1297.93 664.99,1299.64 665.73,1298.31 666.47,1297.59 667.2,1297.94 667.94,1298.91 668.67,1299.21 669.41,1296.94 670.15,1297.36 670.88,1296.98 671.62,1297.57 672.35,1298.6 673.09,1297.15 673.82,1296.52 674.56,1299.07 675.3,1298.38 676.03,1298.39 676.77,1297.02 677.5,1298.83 678.24,1299.73 678.97,1299.67 679.71,1300.69 680.45,1301.62 681.18,1301.28 681.92,1299.76 682.65,1299.65 683.39,1298.94 684.13,1299.41 684.86,1297.97 685.6,1297.75 686.33,1300.29 687.07,1299.54 687.8,1297.19 688.54,1297.23 689.28,1300.28 690.01,1300.48 690.75,1299.35 691.48,1299.07 692.22,1298.78 692.95,1300.01 693.69,1299.37 694.43,1299.89 695.16,1300.98 695.9,1300.26 696.63,1298.54 697.37,1298.96 698.1,1299.26 698.84,1297.52 699.58,1298.24 700.31,1298.6 701.05,1298.59 701.78,1298.69 702.52,1298.35 703.26,1298.53 703.99,1299.99 704.73,1301.11 705.46,1299.78 706.2,1300.49 706.93,1300.16 707.67,1299.54 708.41,1300.61 709.14,1298.97 709.88,1300.43 710.61,1300.81 711.35,1299.38 712.08,1297.01 712.82,1298.39 713.56,1299.39 714.29,1298.02 715.03,1298.39 715.76,1300.42 716.5,1299.51 717.24,1298.7 717.97,1299.42 718.71,1299.37 719.44,1298.11 720.18,1298.96 720.91,1298.16 721.65,1297.52 722.39,1298.35 723.12,1297.4 723.86,1299.53 724.59,1299.83 725.33,1299.33 726.06,1298.8 726.8,1299.09 727.54,1300 728.27,1301.42 729.01,1300.8 729.74,1299.77 730.48,1298.7 731.22,1299.48 731.95,1301.89 732.69,1300.13 733.42,1300.27 734.16,1299.87 734.89,1299.99 735.63,1301.05 736.37,1300.61 737.1,1298.77 737.84,1299.4 738.57,1300.27 739.31,1300.23 740.04,1300.96 740.78,1300.83 741.52,1299.59 742.25,1300.84 742.99,1301.04 743.72,1299.81 744.46,1298.37 745.2,1299.44 745.93,1299.66 746.67,1299.51 747.4,1298.91 748.14,1299.75 748.87,1301.06 749.61,1300.32 750.35,1300.36 751.08,1299.74 751.82,1300.66 752.55,1301.15 753.29,1298.85 754.02,1300.3 754.76,1300.93 755.5,1298.91 756.23,1299.63 756.97,1299.5 757.7,1299.83 758.44,1299.96 759.18,1300.92 759.91,1301.52 760.65,1300.37 761.38,1299.76 762.12,1299.66 762.85,1299.42 763.59,1300.8 764.33,1301.53 765.06,1299.61 765.8,1301.08 766.53,1301.16 767.27,1300.69 768,1300.94 768.74,1299.97 769.48,1300.02 770.21,1298.43 770.95,1300.35 771.68,1300.64 772.42,1301.26 773.15,1302.05 773.89,1300.94 774.63,1300.7 775.36,1301.02 776.1,1301.78 776.83,1299.46 777.57,1299.04 778.31,1300.33 779.04,1299.84 779.78,1299.88 780.51,1300.76 781.25,1299.97 781.98,1299.08 782.72,1300.22 783.46,1301.58 784.19,1300.6 784.93,1297.88 785.66,1300.12 786.4,1301.18 787.13,1299.55 787.87,1299.31 788.61,1300.48 789.34,1300.82 790.08,1298.2 790.81,1299.48 791.55,1299.82 792.29,1299.41 793.02,1300.2 793.76,1299.86 794.49,1299.86 795.23,1301.17 795.96,1298.92 796.7,1299.29"/>
<polyline fill="none" stroke="#008000" stroke-width="3.3" stroke-linejoin="round" points="116.1,1299.2 116.84,1299.1 117.57,1298.76 118.31,1297.43 119.04,1299.52 119.78,1298.69 120.51,1298.36 121.25,1300.31 121.99,1299.76 122.72,1299.3 123.46,1300.03 124.19,1300.39 124.93,1299.62 125.67,1299.4 126.4,1299.4 127.14,1300.94 127.87,1299.47 128.61,1297.68 129.34,1298.28 130.08,1300.3 130.82,1299.08 131.55,1300.38 132.29,1300.27 133.02,1300.12 133.76,1299.23 134.49,1298.14 135.23,1298.6 135.97,1299.28 136.7,1299.49 137.44,1299.21 138.17,1298.97 138.91,1298.72 139.65,1299.67 140.38,1299.17 141.12,1299.21 141.85,1299.05 142.59,1298.8 143.32,1298.42 144.06,1297.97 144.8,1298.55 145.53,1297.82 146.27,1299.43 147,1299.35 147.74,1298.76 148.47,1298.56 149.21,1298.24 149.95,1297.42 150.68,1297.76 151.42,1298.58 152.15,1299.17 152.89,1298.41 153.62,1297.53 154.36,1299.06 155.1,1300.09 155.83,1299.48 156.57,1298.71 157.3,1297.65 158.04,1297.79 158.78,1296.3 159.51,1297.78 160.25,1298.36 160.98,1298.23 161.72,1297.38 162.45,1298.54 163.19,1298.43 163.93,1297.33 164.66,1297.26 165.4,1296.6 166.13,1298.61 166.87,1299.55 167.6,1297.24 168.34,1298.16 169.08,1294.92 169.81,1295.38 170.55,1297.49 171.28,1298.09 172.02,1297.28 172.76,1295.52 173.49,1296.47 174.23,1296.53 174.96,1295.14 175.7,1293.53 176.43,1294.74 177.17,1294.16 177.91,1293.8 178.64,1293.31 179.38,1293.7 180.11,1294.84 180.85,1294.31 181.58,1294.48 182.32,1293.36 183.06,1291.94 183.79,1292.94 184.53,1292.41 185.26,1292.55 186,1291.49 186.74,1290.24 187.47,1291 188.21,1290.17 188.94,1288.75 189.68,1288.13 190.41,1287.6 191.15,1288.5 191.89,1288.86 192.62,1285.99 193.36,1285.3 194.09,1284.93 194.83,1284.65 195.56,1282.12 196.3,1284.27 197.04,1281.7 197.77,1281.71 198.51,1280.72 199.24,1278.84 199.98,1279.88 200.72,1280.47 201.45,1277.38 202.19,1273.67 202.92,1272.28 203.66,1274.44 204.39,1270.87 205.13,1268.32 205.87,1268.34 206.6,1268.5 207.34,1268.35 208.07,1266.68 208.81,1263.65 209.54,1262.38 210.28,1262.43 211.02,1258.8 211.75,1254.68 212.49,1253.48 213.22,1251.38 213.96,1248.73 214.7,1245.79 215.43,1240.67 216.17,1236.9 216.9,1234.4 217.64,1233.42 218.37,1230.24 219.11,1226.39 219.85,1223.36 220.58,1220.99 221.32,1219.45 222.05,1219.51 222.79,1216.34 223.52,1210.41 224.26,1208.51 225,1205.65 225.73,1203.67 226.47,1199.14 227.2,1192.28 227.94,1190.87 228.67,1188.42 229.41,1182.52 230.15,1178.6 230.88,1173.23 231.62,1168.07 232.35,1168.18 233.09,1165.06 233.83,1159.28 234.56,1155.25 235.3,1149.27 236.03,1145.29 236.77,1141.24 237.5,1137.55 238.24,1132.12 238.98,1128.38 239.71,1122.75 240.45,1120.09 241.18,1115.73 241.92,1109.31 242.65,1105.16 243.39,1097.64 244.13,1094.65 244.86,1090.24 245.6,1086.36 246.33,1083.75 247.07,1080.55 247.81,1071.28 248.54,1069 249.28,1062.61 250.01,1060.59 250.75,1055.32 251.48,1051.62 252.22,1047.93 252.96,1041.34 253.69,1036.26 254.43,1033.88 255.16,1030.15 255.9,1023.4 256.63,1016.26 257.37,1009.88 258.11,1005.93 258.84,1003.06 259.58,999.08 260.31,991.41 261.05,988.62 261.79,983.61 262.52,977.14 263.26,973.37 263.99,970.57 264.73,968.96 265.46,964.46 266.2,960.65 266.94,952.67 267.67,947.85 268.41,942.28 269.14,939.83 269.88,934.5 270.61,927.87 271.35,930.12 272.09,925.79 272.82,919.01 273.56,913.15 274.29,910.73 275.03,907.26 275.77,902.16 276.5,894.48 277.24,895.11 277.97,891.14 278.71,885.75 279.44,882.71 280.18,876.19 280.92,870.64 281.65,870.25 282.39,865.95 283.12,862.79 283.86,857.86 284.59,852.38 285.33,850.28 286.07,849.23 286.8,846.36 287.54,840.38 288.27,835.73 289.01,834.35 289.74,832.87 290.48,830.68 291.22,823.73 291.95,825.92 292.69,821.75 293.42,816.7 294.16,813.33 294.9,811.82 295.63,811.13 296.37,808.56 297.1,808.63 297.84,808.22 298.57,803.7 299.31,802.2 300.05,798.92 300.78,797.85 301.52,794.43 302.25,793.68 302.99,791.84 303.72,790.62 304.46,791.65 305.2,791.25 305.93,789.25 306.67,792.76 307.4,789.24 308.14,787.72 308.88,788.78 309.61,787.5 310.35,790.25 311.08,788.32 311.82,785.54 312.55,784.63 313.29,784.8 314.03,787.42 314.76,786.52 315.5,786.24 316.23,788.65 316.97,792.3 317.7,789.18 318.44,787.76 319.18,792.51 319.91,789.94 320.65,791.59 321.38,790.83 322.12,794.8 322.86,795.76 323.59,799.35 324.33,794.76 325.06,795.66 325.8,799.79 326.53,796.63 327.27,801.27 328.01,803.5 328.74,807.04 329.48,801.61 330.21,806.95 330.95,808.34 331.68,811.23 332.42,810.2 333.16,808.76 333.89,812.85 334.63,812.6 335.36,816.31 336.1,817.84 336.84,820.72 337.57,818.56 338.31,817.57 339.04,823.86 339.78,827.04 340.51,829.74 341.25,828.14 341.99,832.18 342.72,840.44 343.46,838.44 344.19,834.38 344.93,840.19 345.66,842.35 346.4,842.86 347.14,843.97 347.87,847.56 348.61,849.73 349.34,848.84 350.08,856.21 350.82,860.02 351.55,861.21 352.29,862.8 353.02,865.43 353.76,866.83 354.49,871.28 355.23,878.84 355.97,874.21 356.7,873.13 357.44,877.28 358.17,882.08 358.91,882.67 359.64,882.6 360.38,888.21 361.12,889.22 361.85,888.9 362.59,895.32 363.32,896.59 364.06,900.85 364.79,904.38 365.53,909.15 366.27,909.86 367,910.44 367.74,916.79 368.47,917.85 369.21,922.63 369.95,923.13 370.68,926.71 371.42,930.16 372.15,928.4 372.89,932.55 373.62,934.33 374.36,939.82 375.1,937.71 375.83,939.49 376.57,947.2 377.3,950.68 378.04,951.41 378.77,954.98 379.51,958.13 380.25,960.81 380.98,963.29 381.72,964.39 382.45,968.71 383.19,970.55 383.93,970.42 384.66,972.27 385.4,971.5 386.13,979.72 386.87,982.7 387.6,983.82 388.34,985.13 389.08,989.82 389.81,990.71 390.55,989.71 391.28,995.13 392.02,993.22 392.75,999 393.49,1001.27 394.23,999.86 394.96,1006.24 395.7,1009.1 396.43,1008.33 397.17,1008.76 397.91,1012.01 398.64,1013.26 399.38,1015.03 400.11,1020.03 400.85,1022.51 401.58,1026.9 402.32,1030.48 403.06,1029.08 403.79,1030.91 404.53,1037.07 405.26,1034.82 406,1040.22 406.73,1044.13 407.47,1043.62 408.21,1044.94 408.94,1050.68 409.68,1050.56 410.41,1054.06 411.15,1059.02 411.89,1058.88 412.62,1062.27 413.36,1065.58 414.09,1066.69 414.83,1071 415.56,1074.13 416.3,1076.29 417.04,1076.28 417.77,1079.94 418.51,1082.74 419.24,1086.02 419.98,1088.05 420.71,1088.01 421.45,1088.6 422.19,1091.6 422.92,1090.53 423.66,1094.46 424.39,1097.84 425.13,1099.81 425.86,1098.89 426.6,1105.08 427.34,1102.85 428.07,1104.15 428.81,1109.51 429.54,1111.68 430.28,1111.74 431.02,1111.69 431.75,1113.29 432.49,1117.48 433.22,1121.7 433.96,1122.19 434.69,1123.53 435.43,1126.95 436.17,1125.29 436.9,1125.31 437.64,1130.84 438.37,1130.47 439.11,1135.16 439.84,1135.8 440.58,1138.12 441.32,1141.22 442.05,1139.85 442.79,1139.83 443.52,1142.55 444.26,1145.39 445,1149.07 445.73,1149.58 446.47,1150.47 447.2,1151.01 447.94,1153.24 448.67,1156.72 449.41,1155.51 450.15,1160.12 450.88,1162.23 451.62,1164.43 452.35,1164.25 453.09,1166.55 453.82,1168.83 454.56,1168.48 455.3,1169.52 456.03,1170.84 456.77,1171.49 457.5,1174.23 458.24,1173.33 458.98,1175.84 459.71,1177.68 460.45,1180.98 461.18,1179.47 461.92,1180.42 462.65,1181.58 463.39,1184.38 464.13,1183.5 464.86,1186.86 465.6,1185.14 466.33,1188.33 467.07,1189.73 467.8,1188.88 468.54,1194.34 469.28,1193.9 470.01,1194.42 470.75,1195.39 471.48,1196.7 472.22,1197.32 472.96,1199.28 473.69,1201.67 474.43,1203.87 475.16,1203.5 475.9,1204.18 476.63,1207.46 477.37,1208.12 478.11,1211.43 478.84,1211.21 479.58,1211.89 480.31,1210.83 481.05,1215.16 481.78,1213.48 482.52,1213.28 483.26,1214.38 483.99,1215.02 484.73,1215.99 485.46,1217.59 486.2,1218.62 486.94,1220.79 487.67,1222.73 488.41,1224.91 489.14,1222.69 489.88,1223.34 490.61,1227.18 491.35,1227.96 492.09,1226.64 492.82,1226.15 493.56,1228.47 494.29,1231.79 495.03,1230.74 495.76,1232.51 496.5,1233.55 497.24,1235.88 497.97,1233.33 498.71,1235.49 499.44,1235.71 500.18,1237.44 500.91,1238.43 501.65,1237.74 502.39,1239.86 503.12,1240.12 503.86,1239.54 504.59,1241.51 505.33,1242.09 506.07,1241.55 506.8,1243.84 507.54,1243.4 508.27,1243.01 509.01,1243.27 509.74,1243.36 510.48,1244.29 511.22,1247.35 511.95,1247.72 512.69,1245.47 513.42,1247.28 514.16,1249.42 514.89,1249.36 515.63,1251.87 516.37,1252.52 517.1,1250.31 517.84,1251.83 518.57,1251.85 519.31,1250.66 520.05,1252.58 520.78,1255.84 521.52,1257.33 522.25,1257.82 522.99,1256.29 523.72,1256.89 524.46,1256.69 525.2,1257.95 525.93,1259.12 526.67,1259.9 527.4,1260.34 528.14,1258.45 528.87,1260.41 529.61,1260.19 530.35,1261.77 531.08,1261.11 531.82,1261.37 532.55,1263.13 533.29,1262.64 534.03,1260.71 534.76,1263.67 535.5,1263.54 536.23,1265.04 536.97,1265.21 537.7,1263.69 538.44,1265.17 539.18,1266.89 539.91,1268.99 540.65,1266.2 541.38,1266.22 542.12,1267.42 542.85,1267.62 543.59,1266.93 544.33,1268.19 545.06,1267.94 545.8,1267.8 546.53,1269.29 547.27,1271.41 548.01,1270.43 548.74,1272.56 549.48,1273.17 550.21,1271.91 550.95,1273.86 551.68,1273.73 552.42,1275.58 553.16,1273.99 553.89,1273.47 554.63,1273.51 555.36,1274.57 556.1,1275.27 556.83,1274.4 557.57,1272.97 558.31,1275.26 559.04,1274.22 559.78,1274.04 560.51,1278.38 561.25,1278.53 561.98,1277.38 562.72,1277.33 563.46,1277.9 564.19,1277.01 564.93,1277.99 565.66,1279.03 566.4,1278.2 567.14,1279.18 567.87,1277.39 568.61,1277.26 569.34,1276.06 570.08,1278.22 570.81,1279.31 571.55,1279.06 572.29,1279.91 573.02,1281.4 573.76,1281.23 574.49,1278.6 575.23,1279.28 575.96,1281.48 576.7,1281.58 577.44,1281.37 578.17,1279.94 578.91,1280.87 579.64,1282.99 580.38,1282.72 581.12,1282.79 581.85,1281.96 582.59,1281.45 583.32,1281.92 584.06,1283.8 584.79,1284.03 585.53,1282.63 586.27,1283.16 587,1284.07 587.74,1283.63 588.47,1283.38 589.21,1283.37 589.94,1284.17 590.68,1284.05 591.42,1285.02 592.15,1285.62 592.89,1284.35 593.62,1284.71 594.36,1284.88 595.1,1287.08 595.83,1286.31 596.57,1286.32 597.3,1287.84 598.04,1286.55 598.77,1287.02 599.51,1287.07 600.25,1287.92 600.98,1289.07 601.72,1286.97 602.45,1286.68 603.19,1285.72 603.92,1285.95 604.66,1286.95 605.4,1287.95 606.13,1290.14 606.87,1287.17 607.6,1286.89 608.34,1287.54 609.08,1288.57 609.81,1289.31 610.55,1289.31 611.28,1288.92 612.02,1288.61 612.75,1288.9 613.49,1290.18 614.23,1290.18 614.96,1288.46 615.7,1291.95 616.43,1292.14 617.17,1288.5 617.9,1289.37 618.64,1289.98 619.38,1289.58 620.11,1290.74 620.85,1291.7 621.58,1291.48 622.32,1292.65 623.06,1292.31 623.79,1292.22 624.53,1291.01 625.26,1290.97 626,1292.26 626.73,1292.39 627.47,1294.52 628.21,1292.99 628.94,1291.43 629.68,1291.16 630.41,1291.23 631.15,1292.32 631.88,1294.51 632.62,1294.4 633.36,1295.45 634.09,1293.14 634.83,1293.11 635.56,1293.98 636.3,1294.09 637.03,1292.89 637.77,1293.04 638.51,1293.8 639.24,1294.31 639.98,1293.79 640.71,1293.76 641.45,1293.54 642.19,1293.56 642.92,1294.79 643.66,1295.72 644.39,1294.47 645.13,1294.28 645.86,1294.84 646.6,1294.67 647.34,1294.78 648.07,1293.37 648.81,1294.4 649.54,1294.48 650.28,1293.99 651.01,1294.31 651.75,1294.64 652.49,1294.02 653.22,1294.57 653.96,1295.12 654.69,1295.81 655.43,1296.37 656.17,1295.28 656.9,1295.75 657.64,1295.87 658.37,1294.49 659.11,1296.19 659.84,1296.96 660.58,1296.3 661.32,1296.02 662.05,1296.36 662.79,1296.78 663.52,1296.69 664.26,1297.68 664.99,1296.5 665.73,1296.22 666.47,1296.76 667.2,1295.59 667.94,1296.05 668.67,1298.02 669.41,1298.43 670.15,1295.42 670.88,1296.17 671.62,1298.14 672.35,1296.56 673.09,1297.24 673.82,1298.59 674.56,1297.02 675.3,1295.88 676.03,1296.91 676.77,1296.7 677.5,1296.4 678.24,1298.42 678.97,1298.33 679.71,1296.42 680.45,1298.03 681.18,1296.95 681.92,1296.3 682.65,1297.14 683.39,1297.57 684.13,1297.83 684.86,1296.24 685.6,1295.9 686.33,1298.53 687.07,1298.51 687.8,1297.7 688.54,1298.3 689.28,1297.64 690.01,1297.58 690.75,1297.32 691.48,1297.56 692.22,1297.14 692.95,1297.17 693.69,1298.75 694.43,1297.8 695.16,1298.16 695.9,1299.4 696.63,1298.97 697.37,1298.55 698.1,1298.14 698.84,1297.11 699.58,1296.95 700.31,1295.79 701.05,1298.61 701.78,1297.63 702.52,1296.49 703.26,1297.9 703.99,1297.51 704.73,1301.15 705.46,1298.33 706.2,1296.51 706.93,1296.78 707.67,1298.16 708.41,1298.93 709.14,1298.17 709.88,1297.57 710.61,1297.75 711.35,1297.83 712.08,1298.7 712.82,1297.23 713.56,1296.2 714.29,1295.54 715.03,1297.57 715.76,1298.16 716.5,1299.66 717.24,1300.44 717.97,1300.26 718.71,1297.37 719.44,1296.83 720.18,1299.51 720.91,1300.57 721.65,1298.46 722.39,1298.87 723.12,1298.25 723.86,1296.65 724.59,1297.01 725.33,1297.63 726.06,1299.16 726.8,1298.72 727.54,1299.16 728.27,1298.09 729.01,1299.15 729.74,1297.52 730.48,1298.39 731.22,1299.02 731.95,1299.67 732.69,1298.78 733.42,1300.72 734.16,1300.13 734.89,1298.8 735.63,1296.99 736.37,1298.94 737.1,1299.18 737.84,1297.51 738.57,1296.87 739.31,1299.34 740.04,1300.13 740.78,1299.81 741.52,1298.3 742.25,1297.51 742.99,1299.09 743.72,1299.45 744.46,1300.15 745.2,1299.5 745.93,1297.93 746.67,1298.5 747.4,1299.09 748.14,1299.91 748.87,1298.38 749.61,1298.16 750.35,1297.33 751.08,1298.19 751.82,1299.08 752.55,1298.62 753.29,1298.79 754.02,1299.43 754.76,1299.45 755.5,1297.49 756.23,1297.21 756.97,1298.56 757.7,1297.82 758.44,1299.48 759.18,1299.39 759.91,1299.23 760.65,1299.01 761.38,1297.89 762.12,1299.07 762.85,1300.98 763.59,1298.31 764.33,1298.19 765.06,1298.01 765.8,1299.86 766.53,1298.62 767.27,1297.83 768,1297.88 768.74,1298.18 769.48,1300.08 770.21,1299.54 770.95,1299.19 771.68,1300.18 772.42,1298.5 773.15,1298.31 773.89,1299.41 774.63,1300.55 775.36,1299.82 776.1,1299.35 776.83,1298.8 777.57,1299.2 778.31,1300.21 779.04,1301.31 779.78,1301.15 780.51,1300.49 781.25,1300.37 781.98,1300.21 782.72,1300.25 783.46,1299.65 784.19,1299.75 784.93,1299.16 785.66,1299.12 786.4,1299.18 787.13,1300.45 787.87,1300.47 788.61,1300.23 789.34,1299.01 790.08,1298.33 790.81,1298.33 791.55,1299.26 792.29,1299.2 793.02,1298.75 793.76,1299.75 794.49,1299.91 795.23,1298.88 795.96,1300.22 796.7,1300.64"/>
<polyline fill="none" stroke="#ff0000" stroke-width="3.3" stroke-linejoin="round" points="116.1,1299.32 116.84,1298.89 117.57,1299.14 118.31,1301.46 119.04,1301.31 119.78,1300.39 120.51,1296.73 121.25,1297.13 121.99,1297.23 122.72,1298.33 123.46,1298.94 124.19,1299.62 124.93,1298.13 125.67,1300.48 126.4,1299.99 127.14,1299.9 127.87,1299.64 128.61,1298.65 129.34,1299.49 130.08,1299.4 130.82,1298.95 131.55,1298.35 132.29,1299.81 133.02,1299.23 133.76,1299.46 134.49,1300.75 135.23,1299.41 135.97,1298.33 136.7,1298.15 137.44,1299.27 138.17,1299.2 138.91,1298.02 139.65,1299.3 140.38,1299.02 141.12,1298.97 141.85,1299.33 142.59,1299.35 143.32,1299.08 144.06,1300.19 144.8,1299.59 145.53,1299.69 146.27,1299.75 147,1298.85 147.74,1298.81 148.47,1298.94 149.21,1298.86 149.95,1297.84 150.68,1297.1 151.42,1299.16 152.15,1301.08 152.89,1298.55 153.62,1301.03 154.36,1300.25 155.1,1299.15 155.83,1299.32 156.57,1297.15 157.3,1298.39 158.04,1299.94 158.78,1299.89 159.51,1297.86 160.25,1297.47 160.98,1297.74 161.72,1296.67 162.45,1297.67 163.19,1297.8 163.93,1298.44 164.66,1298.02 165.4,1299.09 166.13,1298.86 166.87,1296.03 167.6,1298.11 168.34,1297.37 169.08,1296.71 169.81,1297.65 170.55,1297.41 171.28,1297.73 172.02,1298.03 172.76,1296.06 173.49,1297.35 174.23,1297.53 174.96,1296.31 175.7,1297.21 176.43,1297.85 177.17,1296.84 177.91,1296.74 178.64,1296.32 179.38,1296.02 180.11,1296.31 180.85,1297.39 181.58,1296.5 182.32,1296.58 183.06,1295.79 183.79,1297.53 184.53,1297.38 185.26,1294.37 186,1291.9 186.74,1293.28 187.47,1292.98 188.21,1291.49 188.94,1293.61 189.68,1292.82 190.41,1291.69 191.15,1291.96 191.89,1292.07 192.62,1291.85 193.36,1290.55 194.09,1289.95 194.83,1291.43 195.56,1289.39 196.3,1286.3 197.04,1286.27 197.77,1288.91 198.51,1285.39 199.24,1284.15 199.98,1285.34 200.72,1284.05 201.45,1282.09 202.19,1283.09 202.92,1282.26 203.66,1281.5 204.39,1281.81 205.13,1280.21 205.87,1275.07 206.6,1273.97 207.34,1274.49 208.07,1273.31 208.81,1271.45 209.54,1271.43 210.28,1271.3 211.02,1268.15 211.75,1264.78 212.49,1264.25 213.22,1263.4 213.96,1259.82 214.7,1255.92 215.43,1255.15 216.17,1249.91 216.9,1249.1 217.64,1248.21 218.37,1244.78 219.11,1241.75 219.85,1239.22 220.58,1236.37 221.32,1232.75 222.05,1231.75 222.79,1230.93 223.52,1228.33 224.26,1226.43 225,1222.82 225.73,1220.55 226.47,1219.44 227.2,1213.14 227.94,1210.29 228.67,1207.95 229.41,1205.69 230.15,1201.44 230.88,1197.9 231.62,1194.93 232.35,1193.6 233.09,1186.57 233.83,1182.72 234.56,1181.18 235.3,1176.59 236.03,1169.21 236.77,1163.93 237.5,1163.2 238.24,1159.74 238.98,1156.39 239.71,1151.54 240.45,1148.95 241.18,1146.55 241.92,1140.18 242.65,1136.43 243.39,1134.24 244.13,1127.78 244.86,1122.34 245.6,1119.19 246.33,1114.94 247.07,1107.69 247.81,1105.64 248.54,1104.24 249.28,1101.09 250.01,1093.02 250.75,1087.6 251.48,1083.14 252.22,1076.22 252.96,1069.02 253.69,1065.08 254.43,1061.29 255.16,1060.2 255.9,1051.93 256.63,1046.45 257.37,1043.44 258.11,1036.2 258.84,1036.83 259.58,1029.3 260.31,1023.52 261.05,1023.3 261.79,1014.74 262.52,1013.85 263.26,1008.05 263.99,1001.21 264.73,996.26 265.46,991.03 266.2,987.88 266.94,984.28 267.67,980.16 268.41,975.05 269.14,973.23 269.88,962.9 270.61,958.17 271.35,951.26 272.09,949.01 272.82,948.37 273.56,941.02 274.29,939.07 275.03,932.95 275.77,926.25 276.5,922.56 277.24,918.73 277.97,915.34 278.71,911.75 279.44,909.88 280.18,903.71 280.92,898.67 281.65,897.89 282.39,891.59 283.12,885.51 283.86,884.01 284.59,880.84 285.33,873.82 286.07,870.05 286.8,871.69 287.54,867.72 288.27,861.54 289.01,859.6 289.74,855.15 290.48,852.41 291.22,848.91 291.95,843.52 292.69,840.95 293.42,838.66 294.16,830.8 294.9,828.57 295.63,828.74 296.37,824 297.1,821.14 297.84,824.58 298.57,821.07 299.31,816.98 300.05,813.49 300.78,810.36 301.52,811.24 302.25,811.29 302.99,802.96 303.72,803.03 304.46,804.88 305.2,801.25 305.93,802.32 306.67,800.86 307.4,798.16 308.14,794.41 308.88,798.07 309.61,794.75 310.35,793.92 311.08,795.7 311.82,793.44 312.55,790.66 313.29,788.8 314.03,793.57 314.76,789.88 315.5,789.27 316.23,788.26 316.97,785.45 317.7,788.56 318.44,788.05 319.18,784.63 319.91,785.58 320.65,788.67 321.38,785.04 322.12,786.26 322.86,788.86 323.59,789.16 324.33,785.88 325.06,788.24 325.8,791.72 326.53,788.99 327.27,786.8 328.01,794.18 328.74,796.41 329.48,792.99 330.21,792.48 330.95,793.41 331.68,794.8 332.42,793.05 333.16,799.04 333.89,797.82 334.63,797.94 335.36,803.73 336.1,807.47 336.84,802.21 337.57,805.37 338.31,807.03 339.04,804.44 339.78,807.56 340.51,813.46 341.25,817.37 341.99,818.14 342.72,816.57 343.46,818.67 344.19,821.75 344.93,826.51 345.66,823.57 346.4,827.24 347.14,824.7 347.87,822.93 348.61,828.69 349.34,828.9 350.08,831.79 350.82,833.46 351.55,836.87 352.29,838.26 353.02,839.73 353.76,846.18 354.49,845.65 355.23,845.45 355.97,846.37 356.7,846.09 357.44,852.35 358.17,854.15 358.91,856.88 359.64,860 360.38,857.22 361.12,862.18 361.85,863.49 362.59,869.15 363.32,871.26 364.06,870.85 364.79,872.71 365.53,874.33 366.27,876.18 367,874.37 367.74,882.86 368.47,887.06 369.21,886.03 369.95,886.7 370.68,892.91 371.42,897.52 372.15,898.16 372.89,897.63 373.62,900.93 374.36,906.43 375.1,906.72 375.83,911.62 376.57,910.84 377.3,919.3 378.04,923.45 378.77,924.22 379.51,926.02 380.25,927.11 380.98,929.85 381.72,935.12 382.45,940.26 383.19,941.44 383.93,944.81 384.66,947.14 385.4,951.25 386.13,951.85 386.87,950.34 387.6,959.93 388.34,964.1 389.08,962.45 389.81,962.29 390.55,967.05 391.28,970.44 392.02,968.15 392.75,971.27 393.49,979.62 394.23,978.74 394.96,979.46 395.7,981.82 396.43,985.62 397.17,988.64 397.91,993 398.64,992.51 399.38,1000.42 400.11,1003.35 400.85,1001.97 401.58,1005.47 402.32,1009.45 403.06,1010.36 403.79,1011.81 404.53,1015.98 405.26,1017.65 406,1017.6 406.73,1021.66 407.47,1026.21 408.21,1027.41 408.94,1030.31 409.68,1030.69 410.41,1031.99 411.15,1035.02 411.89,1039.4 412.62,1041.38 413.36,1044.44 414.09,1044.34 414.83,1048.15 415.56,1051.07 416.3,1053.98 417.04,1059.68 417.77,1059.95 418.51,1059.65 419.24,1061.25 419.98,1066.26 420.71,1066.43 421.45,1068.75 422.19,1073.56 422.92,1074.71 423.66,1076.7 424.39,1075.79 425.13,1080.85 425.86,1082.94 426.6,1086.92 427.34,1087.9 428.07,1089.9 428.81,1090.66 429.54,1094.5 430.28,1092.24 431.02,1096.71 431.75,1098.71 432.49,1101.9 433.22,1102.15 433.96,1104.15 434.69,1105.91 435.43,1108.21 436.17,1113.89 436.9,1115.49 437.64,1112.87 438.37,1116.84 439.11,1116.56 439.84,1120.96 440.58,1119.24 441.32,1116.83 442.05,1120.8 442.79,1125.6 443.52,1127.22 444.26,1128.77 445,1133.06 445.73,1130.29 446.47,1135.53 447.2,1137.03 447.94,1137.71 448.67,1140.6 449.41,1141.33 450.15,1141.06 450.88,1144.66 451.62,1146.64 452.35,1146.28 453.09,1147.41 453.82,1149.39 454.56,1152.94 455.3,1153.96 456.03,1153.39 456.77,1156.18 457.5,1157.64 458.24,1162.41 458.98,1162.45 459.71,1161.88 460.45,1162.92 461.18,1163.47 461.92,1163.8 462.65,1166 463.39,1169.74 464.13,1169.94 464.86,1170.41 465.6,1172.65 466.33,1172.89 467.07,1171.73 467.8,1176.1 468.54,1181.09 469.28,1180.43 470.01,1179.94 470.75,1180.17 471.48,1185.19 472.22,1183.37 472.96,1185.65 473.69,1187.23 474.43,1187.11 475.16,1190.78 475.9,1193.55 476.63,1192.59 477.37,1191.34 478.11,1194.16 478.84,1193.29 479.58,1197.35 480.31,1201.15 481.05,1200.88 481.78,1198.43 482.52,1198.99 483.26,1202.67 483.99,1204.15 484.73,1205.1 485.46,1206.03 486.2,1207.32 486.94,1209.11 487.67,1210.24 488.41,1211.43 489.14,1212.68 489.88,1214.66 490.61,1213.7 491.35,1213.97 492.09,1216.39 492.82,1218.02 493.56,1215.82 494.29,1217.98 495.03,1221.79 495.76,1219.14 496.5,1221.37 497.24,1225.08 497.97,1226.34 498.71,1223.4 499.44,1223.84 500.18,1224.85 500.91,1225.52 501.65,1226.98 502.39,1228.64 503.12,1227.92 503.86,1229.01 504.59,1231.99 505.33,1232.8 506.07,1230.66 506.8,1234.75 507.54,1235.85 508.27,1233.38 509.01,1234.12 509.74,1235.99 510.48,1236.32 511.22,1237.26 511.95,1240.26 512.69,1239.94 513.42,1240.7 514.16,1239.97 514.89,1240.45 515.63,1238.96 516.37,1242.88 517.1,1245.52 517.84,1244.99 518.57,1241.6 519.31,1243.07 520.05,1245.67 520.78,1246.34 521.52,1246.47 522.25,1250.26 522.99,1253.59 523.72,1250.77 524.46,1249.63 525.2,1249.48 525.93,1249.81 526.67,1250.88 527.4,1253.54 528.14,1253.48 528.87,1253.12 529.61,1253.51 530.35,1256.57 531.08,1255.34 531.82,1254.25 532.55,1255.83 533.29,1256.57 534.03,1258.28 534.76,1255.72 535.5,1255.44 536.23,1256.74 536.97,1257.67 537.7,1258.36 538.44,1258.61 539.18,1258.07 539.91,1256.8 540.65,1258.85 541.38,1261.06 542.12,1261.38 542.85,1262.59 543.59,1263.44 544.33,1262.57 545.06,1263.12 545.8,1262.61 546.53,1264.2 547.27,1263.89 548.01,1264.39 548.74,1265.66 549.48,1265.38 550.21,1267.19 550.95,1266.58 551.68,1268.55 552.42,1268.62 553.16,1267.86 553.89,1269.79 554.63,1270.8 555.36,1270.65 556.1,1270.17 556.83,1270.04 557.57,1272.04 558.31,1271.29 559.04,1269.55 559.78,1269.6 560.51,1271.9 561.25,1270.54 561.98,1270.17 562.72,1270.89 563.46,1270.33 564.19,1272.17 564.93,1273.21 565.66,1271.21 566.4,1271.58 567.14,1270.5 567.87,1272.77 568.61,1272.07 569.34,1273.62 570.08,1274.9 570.81,1275.21 571.55,1274.61 572.29,1275.07 573.02,1276.4 573.76,1276.21 574.49,1276.6 575.23,1276.24 575.96,1274.59 576.7,1276.87 577.44,1279.12 578.17,1277.01 578.91,1277.5 579.64,1277.36 580.38,1279.19 581.12,1279.39 581.85,1279.87 582.59,1280.71 583.32,1279.05 584.06,1277.78 584.79,1278.34 585.53,1278.94 586.27,1280.96 587,1282.17 587.74,1282.55 588.47,1279.96 589.21,1278.53 589.94,1279.54 590.68,1280.02 591.42,1280.07 592.15,1281.22 592.89,1281.66 593.62,1282.17 594.36,1284.55 595.1,1284.69 595.83,1284.86 596.57,1284.88 597.3,1282.96 598.04,1283.32 598.77,1283.74 599.51,1284.39 600.25,1284.69 600.98,1284.55 601.72,1282.05 602.45,1283.18 603.19,1283.5 603.92,1283.61 604.66,1285.18 605.4,1284.46 606.13,1285.19 606.87,1285.41 607.6,1285.23 608.34,1286.07 609.08,1286.77 609.81,1285.1 610.55,1287.38 611.28,1286.45 612.02,1287.33 612.75,1287.7 613.49,1287.92 614.23,1287.84 614.96,1287.17 615.7,1286.22 616.43,1286.87 617.17,1286.86 617.9,1285.06 618.64,1287.93 619.38,1287.59 620.11,1287.82 620.85,1288.23 621.58,1289.76 622.32,1289.57 623.06,1289.97 623.79,1288.86 624.53,1288.76 625.26,1288.35 626,1288.98 626.73,1288.44 627.47,1288.55 628.21,1287.39 628.94,1289.54 629.68,1289.57 630.41,1290.87 631.15,1288.85 631.88,1288.75 632.62,1291.78 633.36,1289.11 634.09,1290.28 634.83,1290.39 635.56,1290 636.3,1291.96 637.03,1291.62 637.77,1290.66 638.51,1290.35 639.24,1292.07 639.98,1291.1 640.71,1291.42 641.45,1291.04 642.19,1291.08 642.92,1293.08 643.66,1292.54 644.39,1292.14 645.13,1290.42 645.86,1290.3 646.6,1291.67 647.34,1291.54 648.07,1292.09 648.81,1292.78 649.54,1293.35 650.28,1292.77 651.01,1290.72 651.75,1292.93 652.49,1292.88 653.22,1292.91 653.96,1293.62 654.69,1293.64 655.43,1293.04 656.17,1293.03 656.9,1293.24 657.64,1293.03 658.37,1294.97 659.11,1292.92 659.84,1292.63 660.58,1294.12 661.32,1294.89 662.05,1294.06 662.79,1294.65 663.52,1293.22 664.26,1292.39 664.99,1293.05 665.73,1295.23 666.47,1295.05 667.2,1294.86 667.94,1293.84 668.67,1294.48 669.41,1295.86 670.15,1293.18 670.88,1294.1 671.62,1296.75 672.35,1295.03 673.09,1295.87 673.82,1295.77 674.56,1295.62 675.3,1294.33 676.03,1294.86 676.77,1295.32 677.5,1294.45 678.24,1294.13 678.97,1296.66 679.71,1297.08 680.45,1298.04 681.18,1296.56 681.92,1296.68 682.65,1297.11 683.39,1295.23 684.13,1296.33 684.86,1296.93 685.6,1297.06 686.33,1296.16 687.07,1296.43 687.8,1295.91 688.54,1297.25 689.28,1296.45 690.01,1296.55 690.75,1295.79 691.48,1296.52 692.22,1295.78 692.95,1296.93 693.69,1296.92 694.43,1296.02 695.16,1296.04 695.9,1296.28 696.63,1296 697.37,1295.83 698.1,1297.69 698.84,1298.37 699.58,1296.6 700.31,1296.66 701.05,1298.07 701.78,1296.73 702.52,1296.43 703.26,1297.6 703.99,1297.37 704.73,1297.54 705.46,1296.88 706.2,1297.55 706.93,1299 707.67,1297.74 708.41,1295.51 709.14,1295.88 709.88,1296.99 710.61,1296.87 711.35,1298.4 712.08,1298.6 712.82,1296.83 713.56,1295.56 714.29,1297.23 715.03,1297.73 715.76,1296.15 716.5,1296.72 717.24,1297.77 717.97,1298.82 718.71,1298.48 719.44,1297.9 720.18,1298.49 720.91,1297.8 721.65,1299.33 722.39,1297.98 723.12,1296.29 723.86,1298.49 724.59,1298.93 725.33,1297.85 726.06,1297.2 726.8,1297.66 727.54,1298.15 728.27,1297.18 729.01,1297.12 729.74,1299.12 730.48,1299.7 731.22,1298.94 731.95,1299.11 732.69,1298.24 733.42,1298.61 734.16,1300.65 734.89,1297.03 735.63,1295.92 736.37,1296.18 737.1,1297.98 737.84,1299.31 738.57,1298.08 739.31,1298.39 740.04,1299.46 740.78,1299.67 741.52,1297.5 742.25,1297.8 742.99,1297.74 743.72,1296.25 744.46,1299.22 745.2,1297.95 745.93,1299.52 746.67,1298.66 747.4,1298.9 748.14,1299.86 748.87,1299.01 749.61,1299.87 750.35,1297.89 751.08,1297.71 751.82,1297.59 752.55,1298.72 753.29,1298.64 754.02,1299.52 754.76,1298.62 755.5,1298.81 756.23,1298.85 756.97,1299.44 757.7,1299.67 758.44,1298.46 759.18,1299.34 759.91,1299.62 760.65,1297.85 761.38,1297.62 762.12,1299.57 762.85,1299.46 763.59,1298.13 764.33,1298.6 765.06,1298.29 765.8,1298.31 766.53,1297.01 767.27,1298.17 768,1300.45 768.74,1299.54 769.48,1298.21 770.21,1297.4 770.95,1298.1 771.68,1297.35 772.42,1298.12 773.15,1298.98 773.89,1300.09 774.63,1298.58 775.36,1299.13 776.1,1299.46 776.83,1299.87 777.57,1299.88 778.31,1298.38 779.04,1297.75 779.78,1299.11 780.51,1299.48 781.25,1299.46 781.98,1299.79 782.72,1298.93 783.46,1298.22 784.19,1298.26 784.93,1298.34 785.66,1298.71 786.4,1298.99 787.13,1299.14 787.87,1297.91 788.61,1299.71 789.34,1298.73 790.08,1299.21 790.81,1300.47 791.55,1298.02 792.29,1299.32 793.02,1299.4 793.76,1298.55 794.49,1298.43 795.23,1298.09 795.96,1297.73 796.7,1299.26"/>
</g>
<defs><radialGradient id="glow"><stop offset="0" stop-color="#8ff"/><stop offset="0.5" stop-color="#4fe8ea" stop-opacity="0.9"/><stop offset="0.75" stop-color="#22c4c8" stop-opacity="0.45"/><stop offset="1" stop-color="#0aa" stop-opacity="0"/></radialGradient><linearGradient id="ph1" x1="0" y1="0" x2="0" y2="1"><stop offset="0" stop-color="#2a7c9f"/><stop offset="0.1" stop-color="#3391b8"/><stop offset="0.6" stop-color="#3a9cc6"/><stop offset="0.9" stop-color="#52c0e2"/><stop offset="1" stop-color="#66d2ee"/></linearGradient><linearGradient id="ph2" x1="0" y1="0" x2="0" y2="1"><stop offset="0" stop-color="#0f8f8a"/><stop offset="0.5" stop-color="#16a09b"/><stop offset="0.88" stop-color="#27c4be"/><stop offset="1" stop-color="#3ad8d2"/></linearGradient><linearGradient id="ph3" x1="0" y1="0" x2="0" y2="1"><stop offset="0" stop-color="#0e8a80"/><stop offset="0.5" stop-color="#139a90"/><stop offset="0.88" stop-color="#22bdb2"/><stop offset="1" stop-color="#34d0c6"/></linearGradient><linearGradient id="dk1" x1="0" y1="0" x2="0" y2="1"><stop offset="0" stop-color="#2b0b10"/><stop offset="0.5" stop-color="#1f0d12"/><stop offset="1" stop-color="#161318"/></linearGradient><filter id="soft" x="-5%" y="-5%" width="110%" height="110%"><feGaussianBlur stdDeviation="0.7"/></filter><filter id="soft2" x="-30%" y="-30%" width="160%" height="160%"><feGaussianBlur stdDeviation="1.1"/></filter><clipPath id="phclip"><rect x="649.8" y="755.9" width="134.2" height="401.8"/></clipPath></defs>
<g id="photos" clip-path="url(#phclip)"><g filter="url(#soft)">
<rect x="649.8" y="755.9" width="134.2" height="132.7" fill="url(#ph1)"/>
<rect x="649.8" y="755.9" width="15" height="132.7" fill="#3588ae" opacity="0.55"/>
<rect x="766.3" y="755.9" width="17.7" height="132.7" fill="#3588ae" opacity="0.55"/>
<rect x="649.8" y="801" width="13" height="51.5" fill="#3a8c92" opacity="0.9"/>
<rect x="768.8" y="800" width="15.2" height="52" fill="#3a8c92" opacity="0.9"/>
<rect x="675.8" y="756.1" width="82.2" height="1.6" fill="#9fe4f5" opacity="0.55"/>
<rect x="649.8" y="887" width="134.2" height="1.8" fill="#9fe4f5" opacity="0.6"/>
<rect x="668.8" y="762" width="93.5" height="123.2" rx="3.2" fill="#3f99c8" stroke="#9fe4f5" stroke-width="1.2"/>
<rect x="679.7" y="772" width="71.3" height="103" rx="3.5" fill="#3a90c0" stroke="#6cc2de" stroke-width="0.9" stroke-opacity="0.75"/>
<rect x="692" y="783.3" width="43" height="86.3" rx="5.5" fill="url(#dk1)"/>
<rect x="699" y="780.3" width="8.8" height="7" fill="#260d11"/>
<rect x="725.8" y="780.3" width="8.4" height="7" fill="#260d11"/>
<circle cx="659.1" cy="771.5" r="3.3" fill="#3588ae" opacity="0.5"/>
<circle cx="659.1" cy="771.5" r="1.7" fill="#0d3a40" opacity="0.9"/>
<circle cx="771.8" cy="771.5" r="3.3" fill="#3588ae" opacity="0.5"/>
<circle cx="771.8" cy="771.5" r="1.7" fill="#0d3a40" opacity="0.9"/>
<circle cx="659.5" cy="876.6" r="3.3" fill="#3588ae" opacity="0.5"/>
<circle cx="659.5" cy="876.6" r="1.7" fill="#0d3a40" opacity="0.9"/>
<circle cx="771.1" cy="876.6" r="3.3" fill="#3588ae" opacity="0.5"/>
<circle cx="771.1" cy="876.6" r="1.7" fill="#0d3a40" opacity="0.9"/>
<rect x="649.8" y="888.6" width="134.2" height="135.9" fill="url(#ph2)"/>
<rect x="649.8" y="888.6" width="15.7" height="135.9" fill="#118f89" opacity="0.55"/>
<rect x="769.5" y="888.6" width="14.5" height="135.9" fill="#118f89" opacity="0.55"/>
<rect x="649.8" y="928.8" width="12.2" height="53.7" fill="#14806f" opacity="0.9"/>
<rect x="772.5" y="927.2" width="11.5" height="53.7" fill="#14806f" opacity="0.9"/>
<rect x="675.8" y="888.8" width="82.2" height="1.6" fill="#8cf6f0" opacity="0.55"/>
<rect x="649.8" y="1022.9" width="134.2" height="1.8" fill="#8cf6f0" opacity="0.6"/>
<rect x="669.5" y="894" width="96" height="126.6" rx="3.2" fill="#27aca7" stroke="#8cf6f0" stroke-width="1.2"/>
<rect x="679.7" y="904.1" width="76.7" height="106.3" rx="3.5" fill="#1b9994" stroke="#4fd6d0" stroke-width="0.9" stroke-opacity="0.75"/>
<rect x="698.5" y="914.9" width="45" height="88.5" rx="5.5" fill="#020908"/>
<rect x="699.5" y="911.9" width="8.6" height="7" fill="#020908"/>
<rect x="726.7" y="911.9" width="8.6" height="7" fill="#020908"/>
<circle cx="658.5" cy="902" r="3.3" fill="#118f89" opacity="0.5"/>
<circle cx="658.5" cy="902" r="1.7" fill="#0d3a40" opacity="0.9"/>
<circle cx="774.1" cy="901.5" r="3.3" fill="#118f89" opacity="0.5"/>
<circle cx="774.1" cy="901.5" r="1.7" fill="#0d3a40" opacity="0.9"/>
<circle cx="659.1" cy="1010" r="3.3" fill="#118f89" opacity="0.5"/>
<circle cx="659.1" cy="1010" r="1.7" fill="#0d3a40" opacity="0.9"/>
<circle cx="775" cy="1009.3" r="3.3" fill="#118f89" opacity="0.5"/>
<circle cx="775" cy="1009.3" r="1.7" fill="#0d3a40" opacity="0.9"/>
<rect x="649.8" y="1024.5" width="134.2" height="133.2" fill="url(#ph3)"/>
<rect x="649.8" y="1024.5" width="13.9" height="133.2" fill="#0f897e" opacity="0.55"/>
<rect x="769" y="1024.5" width="15" height="133.2" fill="#0f897e" opacity="0.55"/>
<rect x="649.8" y="1061" width="12.2" height="55" fill="#157f68" opacity="0.9"/>
<rect x="773.6" y="1062" width="10.4" height="54" fill="#157f68" opacity="0.9"/>
<rect x="675.8" y="1024.7" width="82.2" height="1.6" fill="#84f2ea" opacity="0.55"/>
<rect x="649.8" y="1156.1" width="134.2" height="1.8" fill="#84f2ea" opacity="0.6"/>
<rect x="667.7" y="1028.4" width="97.3" height="126.1" rx="3.2" fill="#22a69c" stroke="#84f2ea" stroke-width="1.2"/>
<rect x="679.2" y="1038" width="76.1" height="105.8" rx="3.5" fill="#17948a" stroke="#46cfc6" stroke-width="0.9" stroke-opacity="0.75"/>
<rect x="696" y="1045" width="45.4" height="88.6" rx="5.5" fill="#020908"/>
<rect x="699.5" y="1129.6" width="8.6" height="7.2" fill="#020908"/>
<rect x="727.4" y="1129.6" width="8.6" height="7.2" fill="#020908"/>
<circle cx="659.1" cy="1035.4" r="3.3" fill="#0f897e" opacity="0.5"/>
<circle cx="659.1" cy="1035.4" r="1.7" fill="#0d3a40" opacity="0.9"/>
<circle cx="776" cy="1035.9" r="3.3" fill="#0f897e" opacity="0.5"/>
<circle cx="776" cy="1035.9" r="1.7" fill="#0d3a40" opacity="0.9"/>
<circle cx="657.7" cy="1143.8" r="3.3" fill="#0f897e" opacity="0.5"/>
<circle cx="657.7" cy="1143.8" r="1.7" fill="#0d3a40" opacity="0.9"/>
<circle cx="775.7" cy="1144.3" r="3.3" fill="#0f897e" opacity="0.5"/>
<circle cx="775.7" cy="1144.3" r="1.7" fill="#0d3a40" opacity="0.9"/>
</g>
<circle cx="704" cy="839.6" r="12.5" fill="url(#glow)"/>
<rect x="698" y="833.4" width="12" height="12.4" rx="1.5" fill="#9ffcfc" filter="url(#soft2)"/>
<rect x="699.1" y="834.5" width="9.8" height="10.2" rx="0.5" fill="#fff" filter="url(#soft)"/>
<circle cx="704.2" cy="972.3" r="12.5" fill="url(#glow)"/>
<rect x="698.2" y="966.1" width="12" height="12.4" rx="1.5" fill="#9ffcfc" filter="url(#soft2)"/>
<rect x="699.3" y="967.2" width="9.8" height="10.2" rx="0.5" fill="#fff" filter="url(#soft)"/>
<circle cx="704.4" cy="1107" r="12.5" fill="url(#glow)"/>
<rect x="698.4" y="1100.8" width="12" height="12.4" rx="1.5" fill="#9ffcfc" filter="url(#soft2)"/>
<rect x="699.5" y="1101.9" width="9.8" height="10.2" rx="0.5" fill="#fff" filter="url(#soft)"/>
</g>
<rect x="116.1" y="733" width="680.6" height="567.9" fill="none" stroke="#000" stroke-width="2.2"/>
<line x1="453.6" y1="826" x2="495.6" y2="826" stroke="#0000ff" stroke-width="3.2"/>
<text x="525.84" y="839.5" font-size="38.5" letter-spacing="0.05">6 vol%</text>
<line x1="453.6" y1="956.4" x2="495.6" y2="956.4" stroke="#008000" stroke-width="3.2"/>
<text x="504.77" y="969.9" font-size="38.5" letter-spacing="-0.01">15 vol%</text>
<line x1="453.6" y1="1086.2" x2="495.6" y2="1086.2" stroke="#ff0000" stroke-width="3.2"/>
<text x="504.36" y="1099.7" font-size="38.5" letter-spacing="0.06">21 vol%</text>
<text x="313.94" y="1386.1" font-size="37.5" letter-spacing="0.06">Wavelength (nm)</text>
<text font-size="37.5" transform="translate(32.5 1264.28) rotate(-90)" letter-spacing="0.13">Normalized EL intensity (a.u.)</text>
</g>
<g id="pd">
<text x="876.19" y="730.2" font-size="34">(d)</text>
<line x1="1015" y1="1302.6" x2="1015" y2="1309.9" stroke="#000" stroke-width="1.8"/>
<line x1="1060.43" y1="1302.6" x2="1060.43" y2="1306.7" stroke="#000" stroke-width="1.5"/>
<line x1="1105.85" y1="1302.6" x2="1105.85" y2="1306.7" stroke="#000" stroke-width="1.5"/>
<line x1="1151.28" y1="1302.6" x2="1151.28" y2="1306.7" stroke="#000" stroke-width="1.5"/>
<line x1="1196.71" y1="1302.6" x2="1196.71" y2="1306.7" stroke="#000" stroke-width="1.5"/>
<line x1="1242.13" y1="1302.6" x2="1242.13" y2="1309.9" stroke="#000" stroke-width="1.8"/>
<line x1="1287.56" y1="1302.6" x2="1287.56" y2="1306.7" stroke="#000" stroke-width="1.5"/>
<line x1="1332.99" y1="1302.6" x2="1332.99" y2="1306.7" stroke="#000" stroke-width="1.5"/>
<line x1="1378.41" y1="1302.6" x2="1378.41" y2="1306.7" stroke="#000" stroke-width="1.5"/>
<line x1="1423.84" y1="1302.6" x2="1423.84" y2="1306.7" stroke="#000" stroke-width="1.5"/>
<line x1="1469.27" y1="1302.6" x2="1469.27" y2="1309.9" stroke="#000" stroke-width="1.8"/>
<line x1="1514.69" y1="1302.6" x2="1514.69" y2="1306.7" stroke="#000" stroke-width="1.5"/>
<line x1="1560.12" y1="1302.6" x2="1560.12" y2="1306.7" stroke="#000" stroke-width="1.5"/>
<line x1="1605.55" y1="1302.6" x2="1605.55" y2="1306.7" stroke="#000" stroke-width="1.5"/>
<line x1="1650.97" y1="1302.6" x2="1650.97" y2="1306.7" stroke="#000" stroke-width="1.5"/>
<line x1="1696.4" y1="1302.6" x2="1696.4" y2="1309.9" stroke="#000" stroke-width="1.8"/>
<text x="1004.54" y="1344.2" font-size="37.6">0</text>
<text x="1231.71" y="1344.2" font-size="37.6">5</text>
<text x="1448.26" y="1344.2" font-size="37.6">10</text>
<text x="1675.45" y="1344.2" font-size="37.6">15</text>
<line x1="1007.7" y1="1302.6" x2="1015" y2="1302.6" stroke="#000" stroke-width="1.8"/>
<text x="928.51" y="1322.4" font-size="37.6" text-anchor="start">10</text>
<text x="971.14" y="1295.6" font-size="26.32" text-anchor="start">&#8722;8</text>
<line x1="1007.7" y1="1199.15" x2="1015" y2="1199.15" stroke="#000" stroke-width="1.8"/>
<text x="928.53" y="1218.95" font-size="37.6" text-anchor="start">10</text>
<text x="971.15" y="1192.15" font-size="26.32" text-anchor="start">&#8722;6</text>
<line x1="1007.7" y1="1095.69" x2="1015" y2="1095.69" stroke="#000" stroke-width="1.8"/>
<text x="928.14" y="1115.49" font-size="37.6" text-anchor="start">10</text>
<text x="970.76" y="1088.69" font-size="26.32" text-anchor="start">&#8722;4</text>
<line x1="1007.7" y1="992.24" x2="1015" y2="992.24" stroke="#000" stroke-width="1.8"/>
<text x="928.69" y="1012.04" font-size="37.6" text-anchor="start">10</text>
<text x="971.32" y="985.24" font-size="26.32" text-anchor="start">&#8722;2</text>
<line x1="1007.7" y1="888.78" x2="1015" y2="888.78" stroke="#000" stroke-width="1.8"/>
<text x="943.77" y="908.58" font-size="37.6" text-anchor="start">10</text>
<text x="986.39" y="881.78" font-size="26.32" text-anchor="start">0</text>
<line x1="1007.7" y1="785.33" x2="1015" y2="785.33" stroke="#000" stroke-width="1.8"/>
<text x="944.06" y="805.13" font-size="37.6" text-anchor="start">10</text>
<text x="986.69" y="778.33" font-size="26.32" text-anchor="start">2</text>
<line x1="1696.4" y1="1302.6" x2="1703.7" y2="1302.6" stroke="#000" stroke-width="1.8"/>
<text x="1711" y="1322.3" font-size="37.6" text-anchor="start">10</text>
<text x="1753.62" y="1295.5" font-size="26.32" text-anchor="start">0</text>
<line x1="1696.4" y1="1274.05" x2="1700.5" y2="1274.05" stroke="#000" stroke-width="1.5"/>
<line x1="1696.4" y1="1257.35" x2="1700.5" y2="1257.35" stroke="#000" stroke-width="1.5"/>
<line x1="1696.4" y1="1245.5" x2="1700.5" y2="1245.5" stroke="#000" stroke-width="1.5"/>
<line x1="1696.4" y1="1236.31" x2="1700.5" y2="1236.31" stroke="#000" stroke-width="1.5"/>
<line x1="1696.4" y1="1228.81" x2="1700.5" y2="1228.81" stroke="#000" stroke-width="1.5"/>
<line x1="1696.4" y1="1222.46" x2="1700.5" y2="1222.46" stroke="#000" stroke-width="1.5"/>
<line x1="1696.4" y1="1216.96" x2="1700.5" y2="1216.96" stroke="#000" stroke-width="1.5"/>
<line x1="1696.4" y1="1212.11" x2="1700.5" y2="1212.11" stroke="#000" stroke-width="1.5"/>
<line x1="1696.4" y1="1207.77" x2="1703.7" y2="1207.77" stroke="#000" stroke-width="1.8"/>
<text x="1711" y="1227.47" font-size="37.6" text-anchor="start">10</text>
<text x="1753.62" y="1200.67" font-size="26.32" text-anchor="start">1</text>
<line x1="1696.4" y1="1179.22" x2="1700.5" y2="1179.22" stroke="#000" stroke-width="1.5"/>
<line x1="1696.4" y1="1162.52" x2="1700.5" y2="1162.52" stroke="#000" stroke-width="1.5"/>
<line x1="1696.4" y1="1150.67" x2="1700.5" y2="1150.67" stroke="#000" stroke-width="1.5"/>
<line x1="1696.4" y1="1141.48" x2="1700.5" y2="1141.48" stroke="#000" stroke-width="1.5"/>
<line x1="1696.4" y1="1133.97" x2="1700.5" y2="1133.97" stroke="#000" stroke-width="1.5"/>
<line x1="1696.4" y1="1127.62" x2="1700.5" y2="1127.62" stroke="#000" stroke-width="1.5"/>
<line x1="1696.4" y1="1122.12" x2="1700.5" y2="1122.12" stroke="#000" stroke-width="1.5"/>
<line x1="1696.4" y1="1117.27" x2="1700.5" y2="1117.27" stroke="#000" stroke-width="1.5"/>
<line x1="1696.4" y1="1112.93" x2="1703.7" y2="1112.93" stroke="#000" stroke-width="1.8"/>
<text x="1711" y="1132.63" font-size="37.6" text-anchor="start">10</text>
<text x="1753.62" y="1105.83" font-size="26.32" text-anchor="start">2</text>
<line x1="1696.4" y1="1084.39" x2="1700.5" y2="1084.39" stroke="#000" stroke-width="1.5"/>
<line x1="1696.4" y1="1067.69" x2="1700.5" y2="1067.69" stroke="#000" stroke-width="1.5"/>
<line x1="1696.4" y1="1055.84" x2="1700.5" y2="1055.84" stroke="#000" stroke-width="1.5"/>
<line x1="1696.4" y1="1046.65" x2="1700.5" y2="1046.65" stroke="#000" stroke-width="1.5"/>
<line x1="1696.4" y1="1039.14" x2="1700.5" y2="1039.14" stroke="#000" stroke-width="1.5"/>
<line x1="1696.4" y1="1032.79" x2="1700.5" y2="1032.79" stroke="#000" stroke-width="1.5"/>
<line x1="1696.4" y1="1027.29" x2="1700.5" y2="1027.29" stroke="#000" stroke-width="1.5"/>
<line x1="1696.4" y1="1022.44" x2="1700.5" y2="1022.44" stroke="#000" stroke-width="1.5"/>
<line x1="1696.4" y1="1018.1" x2="1703.7" y2="1018.1" stroke="#000" stroke-width="1.8"/>
<text x="1711" y="1037.8" font-size="37.6" text-anchor="start">10</text>
<text x="1753.62" y="1011" font-size="26.32" text-anchor="start">3</text>
<line x1="1696.4" y1="989.55" x2="1700.5" y2="989.55" stroke="#000" stroke-width="1.5"/>
<line x1="1696.4" y1="972.85" x2="1700.5" y2="972.85" stroke="#000" stroke-width="1.5"/>
<line x1="1696.4" y1="961" x2="1700.5" y2="961" stroke="#000" stroke-width="1.5"/>
<line x1="1696.4" y1="951.81" x2="1700.5" y2="951.81" stroke="#000" stroke-width="1.5"/>
<line x1="1696.4" y1="944.31" x2="1700.5" y2="944.31" stroke="#000" stroke-width="1.5"/>
<line x1="1696.4" y1="937.96" x2="1700.5" y2="937.96" stroke="#000" stroke-width="1.5"/>
<line x1="1696.4" y1="932.46" x2="1700.5" y2="932.46" stroke="#000" stroke-width="1.5"/>
<line x1="1696.4" y1="927.61" x2="1700.5" y2="927.61" stroke="#000" stroke-width="1.5"/>
<line x1="1696.4" y1="923.27" x2="1703.7" y2="923.27" stroke="#000" stroke-width="1.8"/>
<text x="1711" y="942.97" font-size="37.6" text-anchor="start">10</text>
<text x="1753.62" y="916.17" font-size="26.32" text-anchor="start">4</text>
<line x1="1696.4" y1="894.72" x2="1700.5" y2="894.72" stroke="#000" stroke-width="1.5"/>
<line x1="1696.4" y1="878.02" x2="1700.5" y2="878.02" stroke="#000" stroke-width="1.5"/>
<line x1="1696.4" y1="866.17" x2="1700.5" y2="866.17" stroke="#000" stroke-width="1.5"/>
<line x1="1696.4" y1="856.98" x2="1700.5" y2="856.98" stroke="#000" stroke-width="1.5"/>
<line x1="1696.4" y1="849.47" x2="1700.5" y2="849.47" stroke="#000" stroke-width="1.5"/>
<line x1="1696.4" y1="843.12" x2="1700.5" y2="843.12" stroke="#000" stroke-width="1.5"/>
<line x1="1696.4" y1="837.62" x2="1700.5" y2="837.62" stroke="#000" stroke-width="1.5"/>
<line x1="1696.4" y1="832.77" x2="1700.5" y2="832.77" stroke="#000" stroke-width="1.5"/>
<line x1="1696.4" y1="828.43" x2="1703.7" y2="828.43" stroke="#000" stroke-width="1.8"/>
<text x="1711" y="848.13" font-size="37.6" text-anchor="start">10</text>
<text x="1753.62" y="821.33" font-size="26.32" text-anchor="start">5</text>
<line x1="1696.4" y1="799.89" x2="1700.5" y2="799.89" stroke="#000" stroke-width="1.5"/>
<line x1="1696.4" y1="783.19" x2="1700.5" y2="783.19" stroke="#000" stroke-width="1.5"/>
<line x1="1696.4" y1="771.34" x2="1700.5" y2="771.34" stroke="#000" stroke-width="1.5"/>
<line x1="1696.4" y1="762.15" x2="1700.5" y2="762.15" stroke="#000" stroke-width="1.5"/>
<line x1="1696.4" y1="754.64" x2="1700.5" y2="754.64" stroke="#000" stroke-width="1.5"/>
<line x1="1696.4" y1="748.29" x2="1700.5" y2="748.29" stroke="#000" stroke-width="1.5"/>
<line x1="1696.4" y1="742.79" x2="1700.5" y2="742.79" stroke="#000" stroke-width="1.5"/>
<line x1="1696.4" y1="737.94" x2="1700.5" y2="737.94" stroke="#000" stroke-width="1.5"/>
<line x1="1696.4" y1="733.6" x2="1703.7" y2="733.6" stroke="#000" stroke-width="1.8"/>
<text x="1711" y="753.3" font-size="37.6" text-anchor="start">10</text>
<text x="1753.62" y="726.5" font-size="26.32" text-anchor="start">6</text>
<clipPath id="cd"><rect x="1015" y="733.6" width="681.4" height="569"/></clipPath>
<g clip-path="url(#cd)">
<polyline fill="none" stroke="#0000ff" stroke-width="3.2" stroke-linejoin="round" points="1015,1158.2 1024.09,1176.2 1033.17,1183.8 1042.26,1204.7 1051.34,1237.3 1060.43,1201.9 1069.51,1182.6 1078.6,1222.3 1087.68,1169.2 1096.77,1181.8 1105.85,1163.6 1114.94,1161.2 1124.02,1157.2 1133.11,1149.2 1142.19,1150.8 1151.28,1137.6 1160.37,1125.1 1169.45,1110.5 1178.54,1093.7 1187.62,1078.8 1196.71,1064.9 1205.79,1051.2 1214.88,1038.5 1223.96,1026.5 1233.05,1014.9 1242.13,1004.6 1251.22,994.8 1260.3,984.8 1269.39,975.4 1278.47,967.1 1287.56,958.9 1296.65,950.7 1305.73,943.2 1314.82,936.6 1323.9,930.7 1332.99,925.1 1342.07,918.8 1351.16,912.9 1360.24,907.5 1369.33,902.2 1378.41,897.1 1387.5,892.3 1396.58,887.8 1405.67,883.75 1414.75,879.92 1423.84,876.24 1432.93,872.62 1442.01,869 1451.1,865.36 1460.18,861.76 1469.27,858.23 1478.35,854.8 1487.44,851.48 1496.52,848.24 1505.61,845.09 1514.69,842 1523.78,838.99 1532.86,836.06 1541.95,833.2 1551.03,830.39 1560.12,827.62 1569.21,824.92 1578.29,822.3 1587.38,819.76 1596.46,817.28 1605.55,814.87 1614.63,812.5 1623.72,810.18 1632.8,807.91 1641.89,805.69 1650.97,803.5 1660.06,801.34 1669.14,799.21 1678.23,797.1 1687.31,795.03 1696.4,793"/>
<circle cx="1015" cy="1158.2" r="5.3" fill="#0000ff"/>
<circle cx="1024.09" cy="1176.2" r="5.3" fill="#0000ff"/>
<circle cx="1033.17" cy="1183.8" r="5.3" fill="#0000ff"/>
<circle cx="1042.26" cy="1204.7" r="5.3" fill="#0000ff"/>
<circle cx="1051.34" cy="1237.3" r="5.3" fill="#0000ff"/>
<circle cx="1060.43" cy="1201.9" r="5.3" fill="#0000ff"/>
<circle cx="1069.51" cy="1182.6" r="5.3" fill="#0000ff"/>
<circle cx="1078.6" cy="1222.3" r="5.3" fill="#0000ff"/>
<circle cx="1087.68" cy="1169.2" r="5.3" fill="#0000ff"/>
<circle cx="1096.77" cy="1181.8" r="5.3" fill="#0000ff"/>
<circle cx="1105.85" cy="1163.6" r="5.3" fill="#0000ff"/>
<circle cx="1114.94" cy="1161.2" r="5.3" fill="#0000ff"/>
<circle cx="1124.02" cy="1157.2" r="5.3" fill="#0000ff"/>
<circle cx="1133.11" cy="1149.2" r="5.3" fill="#0000ff"/>
<circle cx="1142.19" cy="1150.8" r="5.3" fill="#0000ff"/>
<circle cx="1151.28" cy="1137.6" r="5.3" fill="#0000ff"/>
<circle cx="1160.37" cy="1125.1" r="5.3" fill="#0000ff"/>
<circle cx="1169.45" cy="1110.5" r="5.3" fill="#0000ff"/>
<circle cx="1178.54" cy="1093.7" r="5.3" fill="#0000ff"/>
<circle cx="1187.62" cy="1078.8" r="5.3" fill="#0000ff"/>
<circle cx="1196.71" cy="1064.9" r="5.3" fill="#0000ff"/>
<circle cx="1205.79" cy="1051.2" r="5.3" fill="#0000ff"/>
<circle cx="1214.88" cy="1038.5" r="5.3" fill="#0000ff"/>
<circle cx="1223.96" cy="1026.5" r="5.3" fill="#0000ff"/>
<circle cx="1233.05" cy="1014.9" r="5.3" fill="#0000ff"/>
<circle cx="1242.13" cy="1004.6" r="5.3" fill="#0000ff"/>
<circle cx="1251.22" cy="994.8" r="5.3" fill="#0000ff"/>
<circle cx="1260.3" cy="984.8" r="5.3" fill="#0000ff"/>
<circle cx="1269.39" cy="975.4" r="5.3" fill="#0000ff"/>
<circle cx="1278.47" cy="967.1" r="5.3" fill="#0000ff"/>
<circle cx="1287.56" cy="958.9" r="5.3" fill="#0000ff"/>
<circle cx="1296.65" cy="950.7" r="5.3" fill="#0000ff"/>
<circle cx="1305.73" cy="943.2" r="5.3" fill="#0000ff"/>
<circle cx="1314.82" cy="936.6" r="5.3" fill="#0000ff"/>
<circle cx="1323.9" cy="930.7" r="5.3" fill="#0000ff"/>
<circle cx="1332.99" cy="925.1" r="5.3" fill="#0000ff"/>
<circle cx="1342.07" cy="918.8" r="5.3" fill="#0000ff"/>
<circle cx="1351.16" cy="912.9" r="5.3" fill="#0000ff"/>
<circle cx="1360.24" cy="907.5" r="5.3" fill="#0000ff"/>
<circle cx="1369.33" cy="902.2" r="5.3" fill="#0000ff"/>
<circle cx="1378.41" cy="897.1" r="5.3" fill="#0000ff"/>
<circle cx="1387.5" cy="892.3" r="5.3" fill="#0000ff"/>
<circle cx="1396.58" cy="887.8" r="5.3" fill="#0000ff"/>
<circle cx="1405.67" cy="883.75" r="5.3" fill="#0000ff"/>
<circle cx="1414.75" cy="879.92" r="5.3" fill="#0000ff"/>
<circle cx="1423.84" cy="876.24" r="5.3" fill="#0000ff"/>
<circle cx="1432.93" cy="872.62" r="5.3" fill="#0000ff"/>
<circle cx="1442.01" cy="869" r="5.3" fill="#0000ff"/>
<circle cx="1451.1" cy="865.36" r="5.3" fill="#0000ff"/>
<circle cx="1460.18" cy="861.76" r="5.3" fill="#0000ff"/>
<circle cx="1469.27" cy="858.23" r="5.3" fill="#0000ff"/>
<circle cx="1478.35" cy="854.8" r="5.3" fill="#0000ff"/>
<circle cx="1487.44" cy="851.48" r="5.3" fill="#0000ff"/>
<circle cx="1496.52" cy="848.24" r="5.3" fill="#0000ff"/>
<circle cx="1505.61" cy="845.09" r="5.3" fill="#0000ff"/>
<circle cx="1514.69" cy="842" r="5.3" fill="#0000ff"/>
<circle cx="1523.78" cy="838.99" r="5.3" fill="#0000ff"/>
<circle cx="1532.86" cy="836.06" r="5.3" fill="#0000ff"/>
<circle cx="1541.95" cy="833.2" r="5.3" fill="#0000ff"/>
<circle cx="1551.03" cy="830.39" r="5.3" fill="#0000ff"/>
<circle cx="1560.12" cy="827.62" r="5.3" fill="#0000ff"/>
<circle cx="1569.21" cy="824.92" r="5.3" fill="#0000ff"/>
<circle cx="1578.29" cy="822.3" r="5.3" fill="#0000ff"/>
<circle cx="1587.38" cy="819.76" r="5.3" fill="#0000ff"/>
<circle cx="1596.46" cy="817.28" r="5.3" fill="#0000ff"/>
<circle cx="1605.55" cy="814.87" r="5.3" fill="#0000ff"/>
<circle cx="1614.63" cy="812.5" r="5.3" fill="#0000ff"/>
<circle cx="1623.72" cy="810.18" r="5.3" fill="#0000ff"/>
<circle cx="1632.8" cy="807.91" r="5.3" fill="#0000ff"/>
<circle cx="1641.89" cy="805.69" r="5.3" fill="#0000ff"/>
<circle cx="1650.97" cy="803.5" r="5.3" fill="#0000ff"/>
<circle cx="1660.06" cy="801.34" r="5.3" fill="#0000ff"/>
<circle cx="1669.14" cy="799.21" r="5.3" fill="#0000ff"/>
<circle cx="1678.23" cy="797.1" r="5.3" fill="#0000ff"/>
<circle cx="1687.31" cy="795.03" r="5.3" fill="#0000ff"/>
<circle cx="1696.4" cy="793" r="5.3" fill="#0000ff"/>
<polyline fill="none" stroke="#008000" stroke-width="3.2" stroke-linejoin="round" points="1015,1133.5 1024.09,1194.2 1033.17,1211.3 1042.26,1188.2 1051.34,1200.3 1060.43,1213.9 1069.51,1204.3 1078.6,1206.3 1087.68,1294 1096.77,1214.7 1105.85,1190.2 1114.94,1178.2 1124.02,1173.2 1133.11,1152.6 1142.19,1121.1 1151.28,1089.7 1160.37,1065.2 1169.45,1045.4 1178.54,1028.9 1187.62,1014.9 1196.71,1002.6 1205.79,991.9 1214.88,982 1223.96,972.6 1233.05,964.2 1242.13,956.1 1251.22,948.6 1260.3,941.4 1269.39,934.8 1278.47,928.4 1287.56,922.6 1296.65,916.9 1305.73,911.4 1314.82,906.4 1323.9,901.4 1332.99,896.6 1342.07,892.1 1351.16,887.9 1360.24,883.9 1369.33,880 1378.41,876 1387.5,872 1396.58,868.2 1405.67,864.68 1414.75,861.3 1423.84,858 1432.93,854.76 1442.01,851.59 1451.1,848.45 1460.18,845.3 1469.27,842.13 1478.35,838.95 1487.44,835.8 1496.52,832.7 1505.61,829.62 1514.69,826.55 1523.78,823.59 1532.86,820.8 1541.95,818.21 1551.03,815.76 1560.12,813.39 1569.21,811.09 1578.29,808.8 1587.38,806.52 1596.46,804.27 1605.55,802.08 1614.63,800 1623.72,798.01 1632.8,796.1 1641.89,794.27 1650.97,792.5 1660.06,790.79 1669.14,789.13 1678.23,787.53 1687.31,785.98 1696.4,784.5"/>
<circle cx="1015" cy="1133.5" r="5.3" fill="#008000"/>
<circle cx="1024.09" cy="1194.2" r="5.3" fill="#008000"/>
<circle cx="1033.17" cy="1211.3" r="5.3" fill="#008000"/>
<circle cx="1042.26" cy="1188.2" r="5.3" fill="#008000"/>
<circle cx="1051.34" cy="1200.3" r="5.3" fill="#008000"/>
<circle cx="1060.43" cy="1213.9" r="5.3" fill="#008000"/>
<circle cx="1069.51" cy="1204.3" r="5.3" fill="#008000"/>
<circle cx="1078.6" cy="1206.3" r="5.3" fill="#008000"/>
<circle cx="1087.68" cy="1294" r="5.3" fill="#008000"/>
<circle cx="1096.77" cy="1214.7" r="5.3" fill="#008000"/>
<circle cx="1105.85" cy="1190.2" r="5.3" fill="#008000"/>
<circle cx="1114.94" cy="1178.2" r="5.3" fill="#008000"/>
<circle cx="1124.02" cy="1173.2" r="5.3" fill="#008000"/>
<circle cx="1133.11" cy="1152.6" r="5.3" fill="#008000"/>
<circle cx="1142.19" cy="1121.1" r="5.3" fill="#008000"/>
<circle cx="1151.28" cy="1089.7" r="5.3" fill="#008000"/>
<circle cx="1160.37" cy="1065.2" r="5.3" fill="#008000"/>
<circle cx="1169.45" cy="1045.4" r="5.3" fill="#008000"/>
<circle cx="1178.54" cy="1028.9" r="5.3" fill="#008000"/>
<circle cx="1187.62" cy="1014.9" r="5.3" fill="#008000"/>
<circle cx="1196.71" cy="1002.6" r="5.3" fill="#008000"/>
<circle cx="1205.79" cy="991.9" r="5.3" fill="#008000"/>
<circle cx="1214.88" cy="982" r="5.3" fill="#008000"/>
<circle cx="1223.96" cy="972.6" r="5.3" fill="#008000"/>
<circle cx="1233.05" cy="964.2" r="5.3" fill="#008000"/>
<circle cx="1242.13" cy="956.1" r="5.3" fill="#008000"/>
<circle cx="1251.22" cy="948.6" r="5.3" fill="#008000"/>
<circle cx="1260.3" cy="941.4" r="5.3" fill="#008000"/>
<circle cx="1269.39" cy="934.8" r="5.3" fill="#008000"/>
<circle cx="1278.47" cy="928.4" r="5.3" fill="#008000"/>
<circle cx="1287.56" cy="922.6" r="5.3" fill="#008000"/>
<circle cx="1296.65" cy="916.9" r="5.3" fill="#008000"/>
<circle cx="1305.73" cy="911.4" r="5.3" fill="#008000"/>
<circle cx="1314.82" cy="906.4" r="5.3" fill="#008000"/>
<circle cx="1323.9" cy="901.4" r="5.3" fill="#008000"/>
<circle cx="1332.99" cy="896.6" r="5.3" fill="#008000"/>
<circle cx="1342.07" cy="892.1" r="5.3" fill="#008000"/>
<circle cx="1351.16" cy="887.9" r="5.3" fill="#008000"/>
<circle cx="1360.24" cy="883.9" r="5.3" fill="#008000"/>
<circle cx="1369.33" cy="880" r="5.3" fill="#008000"/>
<circle cx="1378.41" cy="876" r="5.3" fill="#008000"/>
<circle cx="1387.5" cy="872" r="5.3" fill="#008000"/>
<circle cx="1396.58" cy="868.2" r="5.3" fill="#008000"/>
<circle cx="1405.67" cy="864.68" r="5.3" fill="#008000"/>
<circle cx="1414.75" cy="861.3" r="5.3" fill="#008000"/>
<circle cx="1423.84" cy="858" r="5.3" fill="#008000"/>
<circle cx="1432.93" cy="854.76" r="5.3" fill="#008000"/>
<circle cx="1442.01" cy="851.59" r="5.3" fill="#008000"/>
<circle cx="1451.1" cy="848.45" r="5.3" fill="#008000"/>
<circle cx="1460.18" cy="845.3" r="5.3" fill="#008000"/>
<circle cx="1469.27" cy="842.13" r="5.3" fill="#008000"/>
<circle cx="1478.35" cy="838.95" r="5.3" fill="#008000"/>
<circle cx="1487.44" cy="835.8" r="5.3" fill="#008000"/>
<circle cx="1496.52" cy="832.7" r="5.3" fill="#008000"/>
<circle cx="1505.61" cy="829.62" r="5.3" fill="#008000"/>
<circle cx="1514.69" cy="826.55" r="5.3" fill="#008000"/>
<circle cx="1523.78" cy="823.59" r="5.3" fill="#008000"/>
<circle cx="1532.86" cy="820.8" r="5.3" fill="#008000"/>
<circle cx="1541.95" cy="818.21" r="5.3" fill="#008000"/>
<circle cx="1551.03" cy="815.76" r="5.3" fill="#008000"/>
<circle cx="1560.12" cy="813.39" r="5.3" fill="#008000"/>
<circle cx="1569.21" cy="811.09" r="5.3" fill="#008000"/>
<circle cx="1578.29" cy="808.8" r="5.3" fill="#008000"/>
<circle cx="1587.38" cy="806.52" r="5.3" fill="#008000"/>
<circle cx="1596.46" cy="804.27" r="5.3" fill="#008000"/>
<circle cx="1605.55" cy="802.08" r="5.3" fill="#008000"/>
<circle cx="1614.63" cy="800" r="5.3" fill="#008000"/>
<circle cx="1623.72" cy="798.01" r="5.3" fill="#008000"/>
<circle cx="1632.8" cy="796.1" r="5.3" fill="#008000"/>
<circle cx="1641.89" cy="794.27" r="5.3" fill="#008000"/>
<circle cx="1650.97" cy="792.5" r="5.3" fill="#008000"/>
<circle cx="1660.06" cy="790.79" r="5.3" fill="#008000"/>
<circle cx="1669.14" cy="789.13" r="5.3" fill="#008000"/>
<circle cx="1678.23" cy="787.53" r="5.3" fill="#008000"/>
<circle cx="1687.31" cy="785.98" r="5.3" fill="#008000"/>
<circle cx="1696.4" cy="784.5" r="5.3" fill="#008000"/>
<polyline fill="none" stroke="#ff0000" stroke-width="3.2" stroke-linejoin="round" points="1015,1171.2 1024.09,1189.2 1033.17,1214.7 1042.26,1215.9 1051.34,1242.7 1060.43,1181.2 1069.51,1209.3 1078.6,1195.7 1087.68,1210.3 1096.77,1202.7 1105.85,1193.6 1114.94,1181.8 1124.02,1195.9 1133.11,1179.6 1142.19,1170.6 1151.28,1154.8 1160.37,1137.6 1169.45,1122.1 1178.54,1109.1 1187.62,1095.1 1196.71,1083.1 1205.79,1070.2 1214.88,1057 1223.96,1043.8 1233.05,1030.9 1242.13,1018.6 1251.22,1006.7 1260.3,995.2 1269.39,983.9 1278.47,973.7 1287.56,963.8 1296.65,954.8 1305.73,945.9 1314.82,937.7 1323.9,930.1 1332.99,922.8 1342.07,916 1351.16,909.9 1360.24,904.3 1369.33,898.9 1378.41,893.8 1387.5,888.8 1396.58,884.2 1405.67,880.6 1414.75,876.8 1423.84,872.87 1432.93,868.91 1442.01,865 1451.1,861.1 1460.18,857.18 1469.27,853.34 1478.35,849.7 1487.44,846.32 1496.52,843.13 1505.61,839.97 1514.69,836.7 1523.78,833.16 1532.86,829.62 1541.95,826.49 1551.03,823.64 1560.12,820.95 1569.21,818.36 1578.29,815.8 1587.38,813.27 1596.46,810.81 1605.55,808.39 1614.63,806 1623.72,803.62 1632.8,801.27 1641.89,798.96 1650.97,796.7 1660.06,794.48 1669.14,792.3 1678.23,790.16 1687.31,788.06 1696.4,786"/>
<circle cx="1015" cy="1171.2" r="5.3" fill="#ff0000"/>
<circle cx="1024.09" cy="1189.2" r="5.3" fill="#ff0000"/>
<circle cx="1033.17" cy="1214.7" r="5.3" fill="#ff0000"/>
<circle cx="1042.26" cy="1215.9" r="5.3" fill="#ff0000"/>
<circle cx="1051.34" cy="1242.7" r="5.3" fill="#ff0000"/>
<circle cx="1060.43" cy="1181.2" r="5.3" fill="#ff0000"/>
<circle cx="1069.51" cy="1209.3" r="5.3" fill="#ff0000"/>
<circle cx="1078.6" cy="1195.7" r="5.3" fill="#ff0000"/>
<circle cx="1087.68" cy="1210.3" r="5.3" fill="#ff0000"/>
<circle cx="1096.77" cy="1202.7" r="5.3" fill="#ff0000"/>
<circle cx="1105.85" cy="1193.6" r="5.3" fill="#ff0000"/>
<circle cx="1114.94" cy="1181.8" r="5.3" fill="#ff0000"/>
<circle cx="1124.02" cy="1195.9" r="5.3" fill="#ff0000"/>
<circle cx="1133.11" cy="1179.6" r="5.3" fill="#ff0000"/>
<circle cx="1142.19" cy="1170.6" r="5.3" fill="#ff0000"/>
<circle cx="1151.28" cy="1154.8" r="5.3" fill="#ff0000"/>
<circle cx="1160.37" cy="1137.6" r="5.3" fill="#ff0000"/>
<circle cx="1169.45" cy="1122.1" r="5.3" fill="#ff0000"/>
<circle cx="1178.54" cy="1109.1" r="5.3" fill="#ff0000"/>
<circle cx="1187.62" cy="1095.1" r="5.3" fill="#ff0000"/>
<circle cx="1196.71" cy="1083.1" r="5.3" fill="#ff0000"/>
<circle cx="1205.79" cy="1070.2" r="5.3" fill="#ff0000"/>
<circle cx="1214.88" cy="1057" r="5.3" fill="#ff0000"/>
<circle cx="1223.96" cy="1043.8" r="5.3" fill="#ff0000"/>
<circle cx="1233.05" cy="1030.9" r="5.3" fill="#ff0000"/>
<circle cx="1242.13" cy="1018.6" r="5.3" fill="#ff0000"/>
<circle cx="1251.22" cy="1006.7" r="5.3" fill="#ff0000"/>
<circle cx="1260.3" cy="995.2" r="5.3" fill="#ff0000"/>
<circle cx="1269.39" cy="983.9" r="5.3" fill="#ff0000"/>
<circle cx="1278.47" cy="973.7" r="5.3" fill="#ff0000"/>
<circle cx="1287.56" cy="963.8" r="5.3" fill="#ff0000"/>
<circle cx="1296.65" cy="954.8" r="5.3" fill="#ff0000"/>
<circle cx="1305.73" cy="945.9" r="5.3" fill="#ff0000"/>
<circle cx="1314.82" cy="937.7" r="5.3" fill="#ff0000"/>
<circle cx="1323.9" cy="930.1" r="5.3" fill="#ff0000"/>
<circle cx="1332.99" cy="922.8" r="5.3" fill="#ff0000"/>
<circle cx="1342.07" cy="916" r="5.3" fill="#ff0000"/>
<circle cx="1351.16" cy="909.9" r="5.3" fill="#ff0000"/>
<circle cx="1360.24" cy="904.3" r="5.3" fill="#ff0000"/>
<circle cx="1369.33" cy="898.9" r="5.3" fill="#ff0000"/>
<circle cx="1378.41" cy="893.8" r="5.3" fill="#ff0000"/>
<circle cx="1387.5" cy="888.8" r="5.3" fill="#ff0000"/>
<circle cx="1396.58" cy="884.2" r="5.3" fill="#ff0000"/>
<circle cx="1405.67" cy="880.6" r="5.3" fill="#ff0000"/>
<circle cx="1414.75" cy="876.8" r="5.3" fill="#ff0000"/>
<circle cx="1423.84" cy="872.87" r="5.3" fill="#ff0000"/>
<circle cx="1432.93" cy="868.91" r="5.3" fill="#ff0000"/>
<circle cx="1442.01" cy="865" r="5.3" fill="#ff0000"/>
<circle cx="1451.1" cy="861.1" r="5.3" fill="#ff0000"/>
<circle cx="1460.18" cy="857.18" r="5.3" fill="#ff0000"/>
<circle cx="1469.27" cy="853.34" r="5.3" fill="#ff0000"/>
<circle cx="1478.35" cy="849.7" r="5.3" fill="#ff0000"/>
<circle cx="1487.44" cy="846.32" r="5.3" fill="#ff0000"/>
<circle cx="1496.52" cy="843.13" r="5.3" fill="#ff0000"/>
<circle cx="1505.61" cy="839.97" r="5.3" fill="#ff0000"/>
<circle cx="1514.69" cy="836.7" r="5.3" fill="#ff0000"/>
<circle cx="1523.78" cy="833.16" r="5.3" fill="#ff0000"/>
<circle cx="1532.86" cy="829.62" r="5.3" fill="#ff0000"/>
<circle cx="1541.95" cy="826.49" r="5.3" fill="#ff0000"/>
<circle cx="1551.03" cy="823.64" r="5.3" fill="#ff0000"/>
<circle cx="1560.12" cy="820.95" r="5.3" fill="#ff0000"/>
<circle cx="1569.21" cy="818.36" r="5.3" fill="#ff0000"/>
<circle cx="1578.29" cy="815.8" r="5.3" fill="#ff0000"/>
<circle cx="1587.38" cy="813.27" r="5.3" fill="#ff0000"/>
<circle cx="1596.46" cy="810.81" r="5.3" fill="#ff0000"/>
<circle cx="1605.55" cy="808.39" r="5.3" fill="#ff0000"/>
<circle cx="1614.63" cy="806" r="5.3" fill="#ff0000"/>
<circle cx="1623.72" cy="803.62" r="5.3" fill="#ff0000"/>
<circle cx="1632.8" cy="801.27" r="5.3" fill="#ff0000"/>
<circle cx="1641.89" cy="798.96" r="5.3" fill="#ff0000"/>
<circle cx="1650.97" cy="796.7" r="5.3" fill="#ff0000"/>
<circle cx="1660.06" cy="794.48" r="5.3" fill="#ff0000"/>
<circle cx="1669.14" cy="792.3" r="5.3" fill="#ff0000"/>
<circle cx="1678.23" cy="790.16" r="5.3" fill="#ff0000"/>
<circle cx="1687.31" cy="788.06" r="5.3" fill="#ff0000"/>
<circle cx="1696.4" cy="786" r="5.3" fill="#ff0000"/>
<polyline fill="none" stroke="#0000ff" stroke-width="3.2" stroke-linejoin="round" points="1223.96,1309.5 1233.05,1290.4 1242.13,1272.4 1251.22,1254.3 1260.3,1237.9 1269.39,1221.9 1278.47,1206.3 1287.56,1193.2 1296.65,1179.6 1305.73,1167.2 1314.82,1155.2 1323.9,1143.8 1332.99,1133.1 1342.07,1123.1 1351.16,1113.43 1360.24,1104.15 1369.33,1095.34 1378.41,1087.02 1387.5,1079.24 1396.58,1071.92 1405.67,1065.06 1414.75,1058.42 1423.84,1051.71 1432.93,1045.35 1442.01,1039.58 1451.1,1034.1 1460.18,1028.76 1469.27,1023.65 1478.35,1018.75 1487.44,1014.11 1496.52,1009.83 1505.61,1005.64 1514.69,1001.27 1523.78,996.96 1532.86,992.83 1541.95,988.91 1551.03,985.34 1560.12,981.86 1569.21,978.26 1578.29,974.83 1587.38,971.77 1596.46,968.79 1605.55,965.7 1614.63,962.67 1623.72,959.75 1632.8,957.03 1641.89,954.65 1650.97,952.4 1660.06,950.14 1669.14,947.96 1678.23,945.98 1687.31,943.9 1696.4,942.8"/>
<circle cx="1223.96" cy="1309.5" r="4.2" fill="#fff" stroke="#0000ff" stroke-width="2.1"/>
<circle cx="1233.05" cy="1290.4" r="4.2" fill="#fff" stroke="#0000ff" stroke-width="2.1"/>
<circle cx="1242.13" cy="1272.4" r="4.2" fill="#fff" stroke="#0000ff" stroke-width="2.1"/>
<circle cx="1251.22" cy="1254.3" r="4.2" fill="#fff" stroke="#0000ff" stroke-width="2.1"/>
<circle cx="1260.3" cy="1237.9" r="4.2" fill="#fff" stroke="#0000ff" stroke-width="2.1"/>
<circle cx="1269.39" cy="1221.9" r="4.2" fill="#fff" stroke="#0000ff" stroke-width="2.1"/>
<circle cx="1278.47" cy="1206.3" r="4.2" fill="#fff" stroke="#0000ff" stroke-width="2.1"/>
<circle cx="1287.56" cy="1193.2" r="4.2" fill="#fff" stroke="#0000ff" stroke-width="2.1"/>
<circle cx="1296.65" cy="1179.6" r="4.2" fill="#fff" stroke="#0000ff" stroke-width="2.1"/>
<circle cx="1305.73" cy="1167.2" r="4.2" fill="#fff" stroke="#0000ff" stroke-width="2.1"/>
<circle cx="1314.82" cy="1155.2" r="4.2" fill="#fff" stroke="#0000ff" stroke-width="2.1"/>
<circle cx="1323.9" cy="1143.8" r="4.2" fill="#fff" stroke="#0000ff" stroke-width="2.1"/>
<circle cx="1332.99" cy="1133.1" r="4.2" fill="#fff" stroke="#0000ff" stroke-width="2.1"/>
<circle cx="1342.07" cy="1123.1" r="4.2" fill="#fff" stroke="#0000ff" stroke-width="2.1"/>
<circle cx="1351.16" cy="1113.43" r="4.2" fill="#fff" stroke="#0000ff" stroke-width="2.1"/>
<circle cx="1360.24" cy="1104.15" r="4.2" fill="#fff" stroke="#0000ff" stroke-width="2.1"/>
<circle cx="1369.33" cy="1095.34" r="4.2" fill="#fff" stroke="#0000ff" stroke-width="2.1"/>
<circle cx="1378.41" cy="1087.02" r="4.2" fill="#fff" stroke="#0000ff" stroke-width="2.1"/>
<circle cx="1387.5" cy="1079.24" r="4.2" fill="#fff" stroke="#0000ff" stroke-width="2.1"/>
<circle cx="1396.58" cy="1071.92" r="4.2" fill="#fff" stroke="#0000ff" stroke-width="2.1"/>
<circle cx="1405.67" cy="1065.06" r="4.2" fill="#fff" stroke="#0000ff" stroke-width="2.1"/>
<circle cx="1414.75" cy="1058.42" r="4.2" fill="#fff" stroke="#0000ff" stroke-width="2.1"/>
<circle cx="1423.84" cy="1051.71" r="4.2" fill="#fff" stroke="#0000ff" stroke-width="2.1"/>
<circle cx="1432.93" cy="1045.35" r="4.2" fill="#fff" stroke="#0000ff" stroke-width="2.1"/>
<circle cx="1442.01" cy="1039.58" r="4.2" fill="#fff" stroke="#0000ff" stroke-width="2.1"/>
<circle cx="1451.1" cy="1034.1" r="4.2" fill="#fff" stroke="#0000ff" stroke-width="2.1"/>
<circle cx="1460.18" cy="1028.76" r="4.2" fill="#fff" stroke="#0000ff" stroke-width="2.1"/>
<circle cx="1469.27" cy="1023.65" r="4.2" fill="#fff" stroke="#0000ff" stroke-width="2.1"/>
<circle cx="1478.35" cy="1018.75" r="4.2" fill="#fff" stroke="#0000ff" stroke-width="2.1"/>
<circle cx="1487.44" cy="1014.11" r="4.2" fill="#fff" stroke="#0000ff" stroke-width="2.1"/>
<circle cx="1496.52" cy="1009.83" r="4.2" fill="#fff" stroke="#0000ff" stroke-width="2.1"/>
<circle cx="1505.61" cy="1005.64" r="4.2" fill="#fff" stroke="#0000ff" stroke-width="2.1"/>
<circle cx="1514.69" cy="1001.27" r="4.2" fill="#fff" stroke="#0000ff" stroke-width="2.1"/>
<circle cx="1523.78" cy="996.96" r="4.2" fill="#fff" stroke="#0000ff" stroke-width="2.1"/>
<circle cx="1532.86" cy="992.83" r="4.2" fill="#fff" stroke="#0000ff" stroke-width="2.1"/>
<circle cx="1541.95" cy="988.91" r="4.2" fill="#fff" stroke="#0000ff" stroke-width="2.1"/>
<circle cx="1551.03" cy="985.34" r="4.2" fill="#fff" stroke="#0000ff" stroke-width="2.1"/>
<circle cx="1560.12" cy="981.86" r="4.2" fill="#fff" stroke="#0000ff" stroke-width="2.1"/>
<circle cx="1569.21" cy="978.26" r="4.2" fill="#fff" stroke="#0000ff" stroke-width="2.1"/>
<circle cx="1578.29" cy="974.83" r="4.2" fill="#fff" stroke="#0000ff" stroke-width="2.1"/>
<circle cx="1587.38" cy="971.77" r="4.2" fill="#fff" stroke="#0000ff" stroke-width="2.1"/>
<circle cx="1596.46" cy="968.79" r="4.2" fill="#fff" stroke="#0000ff" stroke-width="2.1"/>
<circle cx="1605.55" cy="965.7" r="4.2" fill="#fff" stroke="#0000ff" stroke-width="2.1"/>
<circle cx="1614.63" cy="962.67" r="4.2" fill="#fff" stroke="#0000ff" stroke-width="2.1"/>
<circle cx="1623.72" cy="959.75" r="4.2" fill="#fff" stroke="#0000ff" stroke-width="2.1"/>
<circle cx="1632.8" cy="957.03" r="4.2" fill="#fff" stroke="#0000ff" stroke-width="2.1"/>
<circle cx="1641.89" cy="954.65" r="4.2" fill="#fff" stroke="#0000ff" stroke-width="2.1"/>
<circle cx="1650.97" cy="952.4" r="4.2" fill="#fff" stroke="#0000ff" stroke-width="2.1"/>
<circle cx="1660.06" cy="950.14" r="4.2" fill="#fff" stroke="#0000ff" stroke-width="2.1"/>
<circle cx="1669.14" cy="947.96" r="4.2" fill="#fff" stroke="#0000ff" stroke-width="2.1"/>
<circle cx="1678.23" cy="945.98" r="4.2" fill="#fff" stroke="#0000ff" stroke-width="2.1"/>
<circle cx="1687.31" cy="943.9" r="4.2" fill="#fff" stroke="#0000ff" stroke-width="2.1"/>
<circle cx="1696.4" cy="942.8" r="4.2" fill="#fff" stroke="#0000ff" stroke-width="2.1"/>
<polyline fill="none" stroke="#008000" stroke-width="3.2" stroke-linejoin="round" points="1178.54,1335 1187.62,1299.8 1196.71,1271.4 1205.79,1248.3 1214.88,1228.9 1223.96,1211.7 1233.05,1195.2 1242.13,1180.2 1251.22,1166.2 1260.3,1153.2 1269.39,1141.2 1278.47,1130.1 1287.56,1119.5 1296.65,1109.7 1305.73,1100.1 1314.82,1091.1 1323.9,1083.1 1332.99,1075.5 1342.07,1068 1351.16,1061.02 1360.24,1054.11 1369.33,1046.73 1378.41,1039.6 1387.5,1033.35 1396.58,1027.3 1405.67,1020.98 1414.75,1014.79 1423.84,1008.87 1432.93,1003.35 1442.01,998.47 1451.1,993.68 1460.18,988.54 1469.27,983.62 1478.35,979.21 1487.44,975.06 1496.52,971.16 1505.61,967.4 1514.69,963.69 1523.78,959.92 1532.86,955.76 1541.95,951.88 1551.03,948.78 1560.12,945.85 1569.21,942.82 1578.29,939.79 1587.38,936.62 1596.46,933.8 1605.55,931.63 1614.63,929.63 1623.72,927.5 1632.8,925.61 1641.89,924.2 1650.97,923.01 1660.06,921.98 1669.14,921 1678.23,920.06 1687.31,918.94 1696.4,918.7"/>
<circle cx="1178.54" cy="1335" r="4.2" fill="#fff" stroke="#008000" stroke-width="2.1"/>
<circle cx="1187.62" cy="1299.8" r="4.2" fill="#fff" stroke="#008000" stroke-width="2.1"/>
<circle cx="1196.71" cy="1271.4" r="4.2" fill="#fff" stroke="#008000" stroke-width="2.1"/>
<circle cx="1205.79" cy="1248.3" r="4.2" fill="#fff" stroke="#008000" stroke-width="2.1"/>
<circle cx="1214.88" cy="1228.9" r="4.2" fill="#fff" stroke="#008000" stroke-width="2.1"/>
<circle cx="1223.96" cy="1211.7" r="4.2" fill="#fff" stroke="#008000" stroke-width="2.1"/>
<circle cx="1233.05" cy="1195.2" r="4.2" fill="#fff" stroke="#008000" stroke-width="2.1"/>
<circle cx="1242.13" cy="1180.2" r="4.2" fill="#fff" stroke="#008000" stroke-width="2.1"/>
<circle cx="1251.22" cy="1166.2" r="4.2" fill="#fff" stroke="#008000" stroke-width="2.1"/>
<circle cx="1260.3" cy="1153.2" r="4.2" fill="#fff" stroke="#008000" stroke-width="2.1"/>
<circle cx="1269.39" cy="1141.2" r="4.2" fill="#fff" stroke="#008000" stroke-width="2.1"/>
<circle cx="1278.47" cy="1130.1" r="4.2" fill="#fff" stroke="#008000" stroke-width="2.1"/>
<circle cx="1287.56" cy="1119.5" r="4.2" fill="#fff" stroke="#008000" stroke-width="2.1"/>
<circle cx="1296.65" cy="1109.7" r="4.2" fill="#fff" stroke="#008000" stroke-width="2.1"/>
<circle cx="1305.73" cy="1100.1" r="4.2" fill="#fff" stroke="#008000" stroke-width="2.1"/>
<circle cx="1314.82" cy="1091.1" r="4.2" fill="#fff" stroke="#008000" stroke-width="2.1"/>
<circle cx="1323.9" cy="1083.1" r="4.2" fill="#fff" stroke="#008000" stroke-width="2.1"/>
<circle cx="1332.99" cy="1075.5" r="4.2" fill="#fff" stroke="#008000" stroke-width="2.1"/>
<circle cx="1342.07" cy="1068" r="4.2" fill="#fff" stroke="#008000" stroke-width="2.1"/>
<circle cx="1351.16" cy="1061.02" r="4.2" fill="#fff" stroke="#008000" stroke-width="2.1"/>
<circle cx="1360.24" cy="1054.11" r="4.2" fill="#fff" stroke="#008000" stroke-width="2.1"/>
<circle cx="1369.33" cy="1046.73" r="4.2" fill="#fff" stroke="#008000" stroke-width="2.1"/>
<circle cx="1378.41" cy="1039.6" r="4.2" fill="#fff" stroke="#008000" stroke-width="2.1"/>
<circle cx="1387.5" cy="1033.35" r="4.2" fill="#fff" stroke="#008000" stroke-width="2.1"/>
<circle cx="1396.58" cy="1027.3" r="4.2" fill="#fff" stroke="#008000" stroke-width="2.1"/>
<circle cx="1405.67" cy="1020.98" r="4.2" fill="#fff" stroke="#008000" stroke-width="2.1"/>
<circle cx="1414.75" cy="1014.79" r="4.2" fill="#fff" stroke="#008000" stroke-width="2.1"/>
<circle cx="1423.84" cy="1008.87" r="4.2" fill="#fff" stroke="#008000" stroke-width="2.1"/>
<circle cx="1432.93" cy="1003.35" r="4.2" fill="#fff" stroke="#008000" stroke-width="2.1"/>
<circle cx="1442.01" cy="998.47" r="4.2" fill="#fff" stroke="#008000" stroke-width="2.1"/>
<circle cx="1451.1" cy="993.68" r="4.2" fill="#fff" stroke="#008000" stroke-width="2.1"/>
<circle cx="1460.18" cy="988.54" r="4.2" fill="#fff" stroke="#008000" stroke-width="2.1"/>
<circle cx="1469.27" cy="983.62" r="4.2" fill="#fff" stroke="#008000" stroke-width="2.1"/>
<circle cx="1478.35" cy="979.21" r="4.2" fill="#fff" stroke="#008000" stroke-width="2.1"/>
<circle cx="1487.44" cy="975.06" r="4.2" fill="#fff" stroke="#008000" stroke-width="2.1"/>
<circle cx="1496.52" cy="971.16" r="4.2" fill="#fff" stroke="#008000" stroke-width="2.1"/>
<circle cx="1505.61" cy="967.4" r="4.2" fill="#fff" stroke="#008000" stroke-width="2.1"/>
<circle cx="1514.69" cy="963.69" r="4.2" fill="#fff" stroke="#008000" stroke-width="2.1"/>
<circle cx="1523.78" cy="959.92" r="4.2" fill="#fff" stroke="#008000" stroke-width="2.1"/>
<circle cx="1532.86" cy="955.76" r="4.2" fill="#fff" stroke="#008000" stroke-width="2.1"/>
<circle cx="1541.95" cy="951.88" r="4.2" fill="#fff" stroke="#008000" stroke-width="2.1"/>
<circle cx="1551.03" cy="948.78" r="4.2" fill="#fff" stroke="#008000" stroke-width="2.1"/>
<circle cx="1560.12" cy="945.85" r="4.2" fill="#fff" stroke="#008000" stroke-width="2.1"/>
<circle cx="1569.21" cy="942.82" r="4.2" fill="#fff" stroke="#008000" stroke-width="2.1"/>
<circle cx="1578.29" cy="939.79" r="4.2" fill="#fff" stroke="#008000" stroke-width="2.1"/>
<circle cx="1587.38" cy="936.62" r="4.2" fill="#fff" stroke="#008000" stroke-width="2.1"/>
<circle cx="1596.46" cy="933.8" r="4.2" fill="#fff" stroke="#008000" stroke-width="2.1"/>
<circle cx="1605.55" cy="931.63" r="4.2" fill="#fff" stroke="#008000" stroke-width="2.1"/>
<circle cx="1614.63" cy="929.63" r="4.2" fill="#fff" stroke="#008000" stroke-width="2.1"/>
<circle cx="1623.72" cy="927.5" r="4.2" fill="#fff" stroke="#008000" stroke-width="2.1"/>
<circle cx="1632.8" cy="925.61" r="4.2" fill="#fff" stroke="#008000" stroke-width="2.1"/>
<circle cx="1641.89" cy="924.2" r="4.2" fill="#fff" stroke="#008000" stroke-width="2.1"/>
<circle cx="1650.97" cy="923.01" r="4.2" fill="#fff" stroke="#008000" stroke-width="2.1"/>
<circle cx="1660.06" cy="921.98" r="4.2" fill="#fff" stroke="#008000" stroke-width="2.1"/>
<circle cx="1669.14" cy="921" r="4.2" fill="#fff" stroke="#008000" stroke-width="2.1"/>
<circle cx="1678.23" cy="920.06" r="4.2" fill="#fff" stroke="#008000" stroke-width="2.1"/>
<circle cx="1687.31" cy="918.94" r="4.2" fill="#fff" stroke="#008000" stroke-width="2.1"/>
<circle cx="1696.4" cy="918.7" r="4.2" fill="#fff" stroke="#008000" stroke-width="2.1"/>
<polyline fill="none" stroke="#ff0000" stroke-width="3.2" stroke-linejoin="round" points="1233.05,1330 1242.13,1301.4 1251.22,1274.4 1260.3,1253.3 1269.39,1232.3 1278.47,1212.7 1287.56,1194.8 1296.65,1178.2 1305.73,1162.6 1314.82,1148.6 1323.9,1134.8 1332.99,1122.1 1342.07,1110.5 1351.16,1099.53 1360.24,1089.1 1369.33,1079.15 1378.41,1069.97 1387.5,1061.9 1396.58,1054.26 1405.67,1046.55 1414.75,1039.15 1423.84,1032.33 1432.93,1025.65 1442.01,1018.83 1451.1,1012.15 1460.18,1005.6 1469.27,999.52 1478.35,994.23 1487.44,989.05 1496.52,983.39 1505.61,977.97 1514.69,973.33 1523.78,968.9 1532.86,964.36 1541.95,959.81 1551.03,955.12 1560.12,950.78 1569.21,947.21 1578.29,943.73 1587.38,939.96 1596.46,936.28 1605.55,932.88 1614.63,929.61 1623.72,926.32 1632.8,923.37 1641.89,921.09 1650.97,918.94 1660.06,916.62 1669.14,914.3 1678.23,912.17 1687.31,909.8 1696.4,908.3"/>
<circle cx="1233.05" cy="1330" r="4.2" fill="#fff" stroke="#ff0000" stroke-width="2.1"/>
<circle cx="1242.13" cy="1301.4" r="4.2" fill="#fff" stroke="#ff0000" stroke-width="2.1"/>
<circle cx="1251.22" cy="1274.4" r="4.2" fill="#fff" stroke="#ff0000" stroke-width="2.1"/>
<circle cx="1260.3" cy="1253.3" r="4.2" fill="#fff" stroke="#ff0000" stroke-width="2.1"/>
<circle cx="1269.39" cy="1232.3" r="4.2" fill="#fff" stroke="#ff0000" stroke-width="2.1"/>
<circle cx="1278.47" cy="1212.7" r="4.2" fill="#fff" stroke="#ff0000" stroke-width="2.1"/>
<circle cx="1287.56" cy="1194.8" r="4.2" fill="#fff" stroke="#ff0000" stroke-width="2.1"/>
<circle cx="1296.65" cy="1178.2" r="4.2" fill="#fff" stroke="#ff0000" stroke-width="2.1"/>
<circle cx="1305.73" cy="1162.6" r="4.2" fill="#fff" stroke="#ff0000" stroke-width="2.1"/>
<circle cx="1314.82" cy="1148.6" r="4.2" fill="#fff" stroke="#ff0000" stroke-width="2.1"/>
<circle cx="1323.9" cy="1134.8" r="4.2" fill="#fff" stroke="#ff0000" stroke-width="2.1"/>
<circle cx="1332.99" cy="1122.1" r="4.2" fill="#fff" stroke="#ff0000" stroke-width="2.1"/>
<circle cx="1342.07" cy="1110.5" r="4.2" fill="#fff" stroke="#ff0000" stroke-width="2.1"/>
<circle cx="1351.16" cy="1099.53" r="4.2" fill="#fff" stroke="#ff0000" stroke-width="2.1"/>
<circle cx="1360.24" cy="1089.1" r="4.2" fill="#fff" stroke="#ff0000" stroke-width="2.1"/>
<circle cx="1369.33" cy="1079.15" r="4.2" fill="#fff" stroke="#ff0000" stroke-width="2.1"/>
<circle cx="1378.41" cy="1069.97" r="4.2" fill="#fff" stroke="#ff0000" stroke-width="2.1"/>
<circle cx="1387.5" cy="1061.9" r="4.2" fill="#fff" stroke="#ff0000" stroke-width="2.1"/>
<circle cx="1396.58" cy="1054.26" r="4.2" fill="#fff" stroke="#ff0000" stroke-width="2.1"/>
<circle cx="1405.67" cy="1046.55" r="4.2" fill="#fff" stroke="#ff0000" stroke-width="2.1"/>
<circle cx="1414.75" cy="1039.15" r="4.2" fill="#fff" stroke="#ff0000" stroke-width="2.1"/>
<circle cx="1423.84" cy="1032.33" r="4.2" fill="#fff" stroke="#ff0000" stroke-width="2.1"/>
<circle cx="1432.93" cy="1025.65" r="4.2" fill="#fff" stroke="#ff0000" stroke-width="2.1"/>
<circle cx="1442.01" cy="1018.83" r="4.2" fill="#fff" stroke="#ff0000" stroke-width="2.1"/>
<circle cx="1451.1" cy="1012.15" r="4.2" fill="#fff" stroke="#ff0000" stroke-width="2.1"/>
<circle cx="1460.18" cy="1005.6" r="4.2" fill="#fff" stroke="#ff0000" stroke-width="2.1"/>
<circle cx="1469.27" cy="999.52" r="4.2" fill="#fff" stroke="#ff0000" stroke-width="2.1"/>
<circle cx="1478.35" cy="994.23" r="4.2" fill="#fff" stroke="#ff0000" stroke-width="2.1"/>
<circle cx="1487.44" cy="989.05" r="4.2" fill="#fff" stroke="#ff0000" stroke-width="2.1"/>
<circle cx="1496.52" cy="983.39" r="4.2" fill="#fff" stroke="#ff0000" stroke-width="2.1"/>
<circle cx="1505.61" cy="977.97" r="4.2" fill="#fff" stroke="#ff0000" stroke-width="2.1"/>
<circle cx="1514.69" cy="973.33" r="4.2" fill="#fff" stroke="#ff0000" stroke-width="2.1"/>
<circle cx="1523.78" cy="968.9" r="4.2" fill="#fff" stroke="#ff0000" stroke-width="2.1"/>
<circle cx="1532.86" cy="964.36" r="4.2" fill="#fff" stroke="#ff0000" stroke-width="2.1"/>
<circle cx="1541.95" cy="959.81" r="4.2" fill="#fff" stroke="#ff0000" stroke-width="2.1"/>
<circle cx="1551.03" cy="955.12" r="4.2" fill="#fff" stroke="#ff0000" stroke-width="2.1"/>
<circle cx="1560.12" cy="950.78" r="4.2" fill="#fff" stroke="#ff0000" stroke-width="2.1"/>
<circle cx="1569.21" cy="947.21" r="4.2" fill="#fff" stroke="#ff0000" stroke-width="2.1"/>
<circle cx="1578.29" cy="943.73" r="4.2" fill="#fff" stroke="#ff0000" stroke-width="2.1"/>
<circle cx="1587.38" cy="939.96" r="4.2" fill="#fff" stroke="#ff0000" stroke-width="2.1"/>
<circle cx="1596.46" cy="936.28" r="4.2" fill="#fff" stroke="#ff0000" stroke-width="2.1"/>
<circle cx="1605.55" cy="932.88" r="4.2" fill="#fff" stroke="#ff0000" stroke-width="2.1"/>
<circle cx="1614.63" cy="929.61" r="4.2" fill="#fff" stroke="#ff0000" stroke-width="2.1"/>
<circle cx="1623.72" cy="926.32" r="4.2" fill="#fff" stroke="#ff0000" stroke-width="2.1"/>
<circle cx="1632.8" cy="923.37" r="4.2" fill="#fff" stroke="#ff0000" stroke-width="2.1"/>
<circle cx="1641.89" cy="921.09" r="4.2" fill="#fff" stroke="#ff0000" stroke-width="2.1"/>
<circle cx="1650.97" cy="918.94" r="4.2" fill="#fff" stroke="#ff0000" stroke-width="2.1"/>
<circle cx="1660.06" cy="916.62" r="4.2" fill="#fff" stroke="#ff0000" stroke-width="2.1"/>
<circle cx="1669.14" cy="914.3" r="4.2" fill="#fff" stroke="#ff0000" stroke-width="2.1"/>
<circle cx="1678.23" cy="912.17" r="4.2" fill="#fff" stroke="#ff0000" stroke-width="2.1"/>
<circle cx="1687.31" cy="909.8" r="4.2" fill="#fff" stroke="#ff0000" stroke-width="2.1"/>
<circle cx="1696.4" cy="908.3" r="4.2" fill="#fff" stroke="#ff0000" stroke-width="2.1"/>
</g>
<rect x="1015" y="733.6" width="681.4" height="569" fill="none" stroke="#000" stroke-width="2.2"/>
<ellipse cx="1160.3" cy="1112.1" rx="38.3" ry="17.3" fill="none" stroke="#000" stroke-width="2.1"/>
<ellipse cx="1320.7" cy="1112.1" rx="58" ry="17.3" fill="none" stroke="#000" stroke-width="2.1"/>
<line x1="1076" y1="1112.2" x2="1122" y2="1112.2" stroke="#000" stroke-width="4.6"/>
<path d="M1051.5 1112.2 L1077.3 1103.6 L1077.3 1120.8 Z" fill="#000"/>
<line x1="1378.7" y1="1112.2" x2="1424" y2="1112.2" stroke="#000" stroke-width="4.6"/>
<path d="M1448.5 1112.2 L1423 1103.6 L1423 1120.8 Z" fill="#000"/>
<line x1="1434.3" y1="1151.5" x2="1475.4" y2="1151.5" stroke="#0000ff" stroke-width="3.2"/>
<circle cx="1454.9" cy="1151.5" r="5.3" fill="#0000ff"/>
<line x1="1488.5" y1="1151.5" x2="1529.2" y2="1151.5" stroke="#0000ff" stroke-width="3.2"/>
<circle cx="1508.8" cy="1151.5" r="4.2" fill="#fff" stroke="#0000ff" stroke-width="2.1"/>
<text x="1558.89" y="1165.4" font-size="37.7" letter-spacing="0.02">6 vol%</text>
<line x1="1434.3" y1="1205.4" x2="1475.4" y2="1205.4" stroke="#008000" stroke-width="3.2"/>
<circle cx="1454.9" cy="1205.4" r="5.3" fill="#008000"/>
<line x1="1488.5" y1="1205.4" x2="1529.2" y2="1205.4" stroke="#008000" stroke-width="3.2"/>
<circle cx="1508.8" cy="1205.4" r="4.2" fill="#fff" stroke="#008000" stroke-width="2.1"/>
<text x="1538.23" y="1219.3" font-size="37.7" letter-spacing="-0.03">15 vol%</text>
<line x1="1434.3" y1="1259.2" x2="1475.4" y2="1259.2" stroke="#ff0000" stroke-width="3.2"/>
<circle cx="1454.9" cy="1259.2" r="5.3" fill="#ff0000"/>
<line x1="1488.5" y1="1259.2" x2="1529.2" y2="1259.2" stroke="#ff0000" stroke-width="3.2"/>
<circle cx="1508.8" cy="1259.2" r="4.2" fill="#fff" stroke="#ff0000" stroke-width="2.1"/>
<text x="1538.1" y="1273.1" font-size="37.7" letter-spacing="-0.01">21 vol%</text>
<text x="1262.53" y="1387.8" font-size="37.6" letter-spacing="-0.06">Voltage (V)</text>
<text font-size="37.6" transform="translate(910.6 1243.11) rotate(-90)"><tspan letter-spacing="0.07">Current density (mA cm</tspan><tspan dx="1.1" dy="-14.2" font-size="26.32" font-family="'DejaVu Sans', sans-serif">&#8722;</tspan><tspan font-size="26.32">2</tspan><tspan dx="3.8" dy="14.2">)</tspan></text>
<text font-size="37.6" transform="translate(1809.6 1198.78) rotate(-90)"><tspan letter-spacing="0.05">Luminance (cd cm</tspan><tspan dx="1.1" dy="-14.2" font-size="26.32" font-family="'DejaVu Sans', sans-serif">&#8722;</tspan><tspan font-size="26.32">2</tspan><tspan dx="3.8" dy="14.2">)</tspan></text>
</g>
</svg>
</body></html>
